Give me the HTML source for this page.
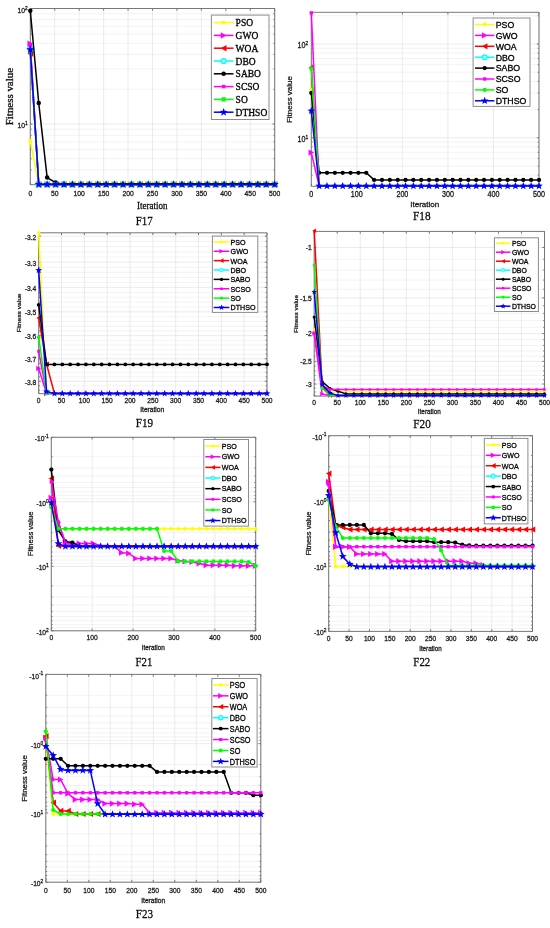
<!DOCTYPE html>
<html><head><meta charset="utf-8"><style>
html,body{margin:0;padding:0;background:#fff;}
svg{display:block;filter:blur(0.35px);}
.s{font-family:"Liberation Sans",Arial,sans-serif;fill:#1a1a1a;stroke:#1a1a1a;stroke-width:0.3;}
.r{font-family:"Liberation Serif","Times New Roman",serif;fill:#111;stroke:#111;stroke-width:0.3;}
.k{fill:#000;stroke:#000;}
.g{stroke:#dddddd;stroke-width:0.6;fill:none;}
.mg{stroke:#ebebeb;stroke-width:0.6;fill:none;}
.ax{stroke:#777;stroke-width:1.0;fill:none;}
.c{fill:none;stroke-width:1.5;stroke-linejoin:round;}
.lg{fill:#fff;stroke:#8c8c8c;stroke-width:1;}
</style></head><body>
<svg width="550" height="928" viewBox="0 0 550 928">
<defs>
<marker id="mPSO125" markerUnits="userSpaceOnUse" markerWidth="10" markerHeight="10" refX="0" refY="0" style="overflow:visible"><circle r="2" fill="#ffff00"/></marker>
<marker id="mGWO125" markerUnits="userSpaceOnUse" markerWidth="10" markerHeight="10" refX="0" refY="0" style="overflow:visible"><path d="M-2.88 -3.25L2.88 0L-2.88 3.25Z" fill="#ff00ff"/></marker>
<marker id="mWOA125" markerUnits="userSpaceOnUse" markerWidth="10" markerHeight="10" refX="0" refY="0" style="overflow:visible"><path d="M2.88 -3.25L-2.88 0L2.88 3.25Z" fill="#ff0000"/></marker>
<marker id="mDBO125" markerUnits="userSpaceOnUse" markerWidth="10" markerHeight="10" refX="0" refY="0" style="overflow:visible"><circle r="2.5" fill="#a0ffff" stroke="#00ffff" stroke-width="1.25"/></marker>
<marker id="mSABO125" markerUnits="userSpaceOnUse" markerWidth="10" markerHeight="10" refX="0" refY="0" style="overflow:visible"><circle r="2.25" fill="#000000"/></marker>
<marker id="mSCSO125" markerUnits="userSpaceOnUse" markerWidth="10" markerHeight="10" refX="0" refY="0" style="overflow:visible"><rect x="-1.75" y="-1.75" width="3.5" height="3.5" fill="#ff00ff"/></marker>
<marker id="mSO125" markerUnits="userSpaceOnUse" markerWidth="10" markerHeight="10" refX="0" refY="0" style="overflow:visible"><circle r="2.19" fill="#00ff00"/></marker>
<marker id="mDTHSO125" markerUnits="userSpaceOnUse" markerWidth="10" markerHeight="10" refX="0" refY="0" style="overflow:visible"><polygon points="0,-4.25 1.05,-1.44 4.04,-1.31 1.7,0.55 2.5,3.44 0,1.78 -2.5,3.44 -1.7,0.55 -4.04,-1.31 -1.05,-1.44" fill="#0000ff"/></marker>
<marker id="mPSO120" markerUnits="userSpaceOnUse" markerWidth="10" markerHeight="10" refX="0" refY="0" style="overflow:visible"><circle r="1.92" fill="#ffff00"/></marker>
<marker id="mGWO120" markerUnits="userSpaceOnUse" markerWidth="10" markerHeight="10" refX="0" refY="0" style="overflow:visible"><path d="M-2.76 -3.12L2.76 0L-2.76 3.12Z" fill="#ff00ff"/></marker>
<marker id="mWOA120" markerUnits="userSpaceOnUse" markerWidth="10" markerHeight="10" refX="0" refY="0" style="overflow:visible"><path d="M2.76 -3.12L-2.76 0L2.76 3.12Z" fill="#ff0000"/></marker>
<marker id="mDBO120" markerUnits="userSpaceOnUse" markerWidth="10" markerHeight="10" refX="0" refY="0" style="overflow:visible"><circle r="2.4" fill="#a0ffff" stroke="#00ffff" stroke-width="1.2"/></marker>
<marker id="mSABO120" markerUnits="userSpaceOnUse" markerWidth="10" markerHeight="10" refX="0" refY="0" style="overflow:visible"><circle r="2.16" fill="#000000"/></marker>
<marker id="mSCSO120" markerUnits="userSpaceOnUse" markerWidth="10" markerHeight="10" refX="0" refY="0" style="overflow:visible"><rect x="-1.68" y="-1.68" width="3.36" height="3.36" fill="#ff00ff"/></marker>
<marker id="mSO120" markerUnits="userSpaceOnUse" markerWidth="10" markerHeight="10" refX="0" refY="0" style="overflow:visible"><circle r="2.1" fill="#00ff00"/></marker>
<marker id="mDTHSO120" markerUnits="userSpaceOnUse" markerWidth="10" markerHeight="10" refX="0" refY="0" style="overflow:visible"><polygon points="0,-4.08 1.01,-1.39 3.88,-1.26 1.63,0.53 2.4,3.3 0,1.71 -2.4,3.3 -1.63,0.53 -3.88,-1.26 -1.01,-1.39" fill="#0000ff"/></marker>
<marker id="mPSO105" markerUnits="userSpaceOnUse" markerWidth="10" markerHeight="10" refX="0" refY="0" style="overflow:visible"><circle r="1.68" fill="#ffff00"/></marker>
<marker id="mGWO105" markerUnits="userSpaceOnUse" markerWidth="10" markerHeight="10" refX="0" refY="0" style="overflow:visible"><path d="M-2.42 -2.73L2.42 0L-2.42 2.73Z" fill="#ff00ff"/></marker>
<marker id="mWOA105" markerUnits="userSpaceOnUse" markerWidth="10" markerHeight="10" refX="0" refY="0" style="overflow:visible"><path d="M2.42 -2.73L-2.42 0L2.42 2.73Z" fill="#ff0000"/></marker>
<marker id="mDBO105" markerUnits="userSpaceOnUse" markerWidth="10" markerHeight="10" refX="0" refY="0" style="overflow:visible"><circle r="2.1" fill="#a0ffff" stroke="#00ffff" stroke-width="1.05"/></marker>
<marker id="mSABO105" markerUnits="userSpaceOnUse" markerWidth="10" markerHeight="10" refX="0" refY="0" style="overflow:visible"><circle r="1.89" fill="#000000"/></marker>
<marker id="mSCSO105" markerUnits="userSpaceOnUse" markerWidth="10" markerHeight="10" refX="0" refY="0" style="overflow:visible"><rect x="-1.47" y="-1.47" width="2.94" height="2.94" fill="#ff00ff"/></marker>
<marker id="mSO105" markerUnits="userSpaceOnUse" markerWidth="10" markerHeight="10" refX="0" refY="0" style="overflow:visible"><circle r="1.84" fill="#00ff00"/></marker>
<marker id="mDTHSO105" markerUnits="userSpaceOnUse" markerWidth="10" markerHeight="10" refX="0" refY="0" style="overflow:visible"><polygon points="0,-3.57 0.88,-1.21 3.4,-1.1 1.43,0.46 2.1,2.89 0,1.5 -2.1,2.89 -1.43,0.46 -3.4,-1.1 -0.88,-1.21" fill="#0000ff"/></marker>
<marker id="mPSO90" markerUnits="userSpaceOnUse" markerWidth="10" markerHeight="10" refX="0" refY="0" style="overflow:visible"><circle r="1.44" fill="#ffff00"/></marker>
<marker id="mGWO90" markerUnits="userSpaceOnUse" markerWidth="10" markerHeight="10" refX="0" refY="0" style="overflow:visible"><path d="M-2.07 -2.34L2.07 0L-2.07 2.34Z" fill="#ff00ff"/></marker>
<marker id="mWOA90" markerUnits="userSpaceOnUse" markerWidth="10" markerHeight="10" refX="0" refY="0" style="overflow:visible"><path d="M2.07 -2.34L-2.07 0L2.07 2.34Z" fill="#ff0000"/></marker>
<marker id="mDBO90" markerUnits="userSpaceOnUse" markerWidth="10" markerHeight="10" refX="0" refY="0" style="overflow:visible"><circle r="1.8" fill="#a0ffff" stroke="#00ffff" stroke-width="0.9"/></marker>
<marker id="mSABO90" markerUnits="userSpaceOnUse" markerWidth="10" markerHeight="10" refX="0" refY="0" style="overflow:visible"><circle r="1.62" fill="#000000"/></marker>
<marker id="mSCSO90" markerUnits="userSpaceOnUse" markerWidth="10" markerHeight="10" refX="0" refY="0" style="overflow:visible"><rect x="-1.26" y="-1.26" width="2.52" height="2.52" fill="#ff00ff"/></marker>
<marker id="mSO90" markerUnits="userSpaceOnUse" markerWidth="10" markerHeight="10" refX="0" refY="0" style="overflow:visible"><circle r="1.57" fill="#00ff00"/></marker>
<marker id="mDTHSO90" markerUnits="userSpaceOnUse" markerWidth="10" markerHeight="10" refX="0" refY="0" style="overflow:visible"><polygon points="0,-3.06 0.76,-1.04 2.91,-0.95 1.22,0.4 1.8,2.48 0,1.29 -1.8,2.48 -1.22,0.4 -2.91,-0.95 -0.76,-1.04" fill="#0000ff"/></marker>
<marker id="mPSO85" markerUnits="userSpaceOnUse" markerWidth="10" markerHeight="10" refX="0" refY="0" style="overflow:visible"><circle r="1.36" fill="#ffff00"/></marker>
<marker id="mGWO85" markerUnits="userSpaceOnUse" markerWidth="10" markerHeight="10" refX="0" refY="0" style="overflow:visible"><path d="M-1.95 -2.21L1.95 0L-1.95 2.21Z" fill="#ff00ff"/></marker>
<marker id="mWOA85" markerUnits="userSpaceOnUse" markerWidth="10" markerHeight="10" refX="0" refY="0" style="overflow:visible"><path d="M1.95 -2.21L-1.95 0L1.95 2.21Z" fill="#ff0000"/></marker>
<marker id="mDBO85" markerUnits="userSpaceOnUse" markerWidth="10" markerHeight="10" refX="0" refY="0" style="overflow:visible"><circle r="1.7" fill="#a0ffff" stroke="#00ffff" stroke-width="0.85"/></marker>
<marker id="mSABO85" markerUnits="userSpaceOnUse" markerWidth="10" markerHeight="10" refX="0" refY="0" style="overflow:visible"><circle r="1.53" fill="#000000"/></marker>
<marker id="mSCSO85" markerUnits="userSpaceOnUse" markerWidth="10" markerHeight="10" refX="0" refY="0" style="overflow:visible"><rect x="-1.19" y="-1.19" width="2.38" height="2.38" fill="#ff00ff"/></marker>
<marker id="mSO85" markerUnits="userSpaceOnUse" markerWidth="10" markerHeight="10" refX="0" refY="0" style="overflow:visible"><circle r="1.49" fill="#00ff00"/></marker>
<marker id="mDTHSO85" markerUnits="userSpaceOnUse" markerWidth="10" markerHeight="10" refX="0" refY="0" style="overflow:visible"><polygon points="0,-2.89 0.71,-0.98 2.75,-0.89 1.15,0.38 1.7,2.34 0,1.21 -1.7,2.34 -1.15,0.38 -2.75,-0.89 -0.71,-0.98" fill="#0000ff"/></marker>
<marker id="mPSO95" markerUnits="userSpaceOnUse" markerWidth="10" markerHeight="10" refX="0" refY="0" style="overflow:visible"><circle r="1.52" fill="#ffff00"/></marker>
<marker id="mGWO95" markerUnits="userSpaceOnUse" markerWidth="10" markerHeight="10" refX="0" refY="0" style="overflow:visible"><path d="M-2.18 -2.47L2.18 0L-2.18 2.47Z" fill="#ff00ff"/></marker>
<marker id="mWOA95" markerUnits="userSpaceOnUse" markerWidth="10" markerHeight="10" refX="0" refY="0" style="overflow:visible"><path d="M2.18 -2.47L-2.18 0L2.18 2.47Z" fill="#ff0000"/></marker>
<marker id="mDBO95" markerUnits="userSpaceOnUse" markerWidth="10" markerHeight="10" refX="0" refY="0" style="overflow:visible"><circle r="1.9" fill="#a0ffff" stroke="#00ffff" stroke-width="0.95"/></marker>
<marker id="mSABO95" markerUnits="userSpaceOnUse" markerWidth="10" markerHeight="10" refX="0" refY="0" style="overflow:visible"><circle r="1.71" fill="#000000"/></marker>
<marker id="mSCSO95" markerUnits="userSpaceOnUse" markerWidth="10" markerHeight="10" refX="0" refY="0" style="overflow:visible"><rect x="-1.33" y="-1.33" width="2.66" height="2.66" fill="#ff00ff"/></marker>
<marker id="mSO95" markerUnits="userSpaceOnUse" markerWidth="10" markerHeight="10" refX="0" refY="0" style="overflow:visible"><circle r="1.66" fill="#00ff00"/></marker>
<marker id="mDTHSO95" markerUnits="userSpaceOnUse" markerWidth="10" markerHeight="10" refX="0" refY="0" style="overflow:visible"><polygon points="0,-3.23 0.8,-1.1 3.07,-1 1.29,0.42 1.9,2.61 0,1.36 -1.9,2.61 -1.29,0.42 -3.07,-1 -0.8,-1.1" fill="#0000ff"/></marker>
<marker id="mPSO110" markerUnits="userSpaceOnUse" markerWidth="10" markerHeight="10" refX="0" refY="0" style="overflow:visible"><circle r="1.76" fill="#ffff00"/></marker>
<marker id="mGWO110" markerUnits="userSpaceOnUse" markerWidth="10" markerHeight="10" refX="0" refY="0" style="overflow:visible"><path d="M-2.53 -2.86L2.53 0L-2.53 2.86Z" fill="#ff00ff"/></marker>
<marker id="mWOA110" markerUnits="userSpaceOnUse" markerWidth="10" markerHeight="10" refX="0" refY="0" style="overflow:visible"><path d="M2.53 -2.86L-2.53 0L2.53 2.86Z" fill="#ff0000"/></marker>
<marker id="mDBO110" markerUnits="userSpaceOnUse" markerWidth="10" markerHeight="10" refX="0" refY="0" style="overflow:visible"><circle r="2.2" fill="#a0ffff" stroke="#00ffff" stroke-width="1.1"/></marker>
<marker id="mSABO110" markerUnits="userSpaceOnUse" markerWidth="10" markerHeight="10" refX="0" refY="0" style="overflow:visible"><circle r="1.98" fill="#000000"/></marker>
<marker id="mSCSO110" markerUnits="userSpaceOnUse" markerWidth="10" markerHeight="10" refX="0" refY="0" style="overflow:visible"><rect x="-1.54" y="-1.54" width="3.08" height="3.08" fill="#ff00ff"/></marker>
<marker id="mSO110" markerUnits="userSpaceOnUse" markerWidth="10" markerHeight="10" refX="0" refY="0" style="overflow:visible"><circle r="1.93" fill="#00ff00"/></marker>
<marker id="mDTHSO110" markerUnits="userSpaceOnUse" markerWidth="10" markerHeight="10" refX="0" refY="0" style="overflow:visible"><polygon points="0,-3.74 0.92,-1.27 3.56,-1.16 1.49,0.49 2.2,3.03 0,1.57 -2.2,3.03 -1.49,0.49 -3.56,-1.16 -0.92,-1.27" fill="#0000ff"/></marker>
<marker id="mSOsq125" markerUnits="userSpaceOnUse" markerWidth="10" markerHeight="10" refX="0" refY="0" style="overflow:visible"><rect x="-2.12" y="-2.12" width="4.25" height="4.25" fill="#00ff00"/></marker>
</defs>
<rect width="550" height="928" fill="#fff"/>
<path d="M30.3 184.39H274.7M30.3 169.96H274.7M30.3 158.77H274.7M30.3 149.62H274.7M30.3 141.89H274.7M30.3 135.19H274.7M30.3 129.28H274.7M30.3 89.23H274.7M30.3 68.89H274.7M30.3 54.46H274.7M30.3 43.27H274.7M30.3 34.12H274.7M30.3 26.39H274.7M30.3 19.69H274.7M30.3 13.78H274.7" class="mg"/>
<path d="M30.3 8.5H274.7M30.3 124H274.7M30.3 8.5V184.7M54.74 8.5V184.7M79.18 8.5V184.7M103.62 8.5V184.7M128.06 8.5V184.7M152.5 8.5V184.7M176.94 8.5V184.7M201.38 8.5V184.7M225.82 8.5V184.7M250.26 8.5V184.7M274.7 8.5V184.7" class="g"/>
<path d="M30.3 8.5H274.7V184.7H30.3ZM30.3 184.7v-2.2M30.3 8.5v2.2M54.74 184.7v-2.2M54.74 8.5v2.2M79.18 184.7v-2.2M79.18 8.5v2.2M103.62 184.7v-2.2M103.62 8.5v2.2M128.06 184.7v-2.2M128.06 8.5v2.2M152.5 184.7v-2.2M152.5 8.5v2.2M176.94 184.7v-2.2M176.94 8.5v2.2M201.38 184.7v-2.2M201.38 8.5v2.2M225.82 184.7v-2.2M225.82 8.5v2.2M250.26 184.7v-2.2M250.26 8.5v2.2M274.7 184.7v-2.2M274.7 8.5v2.2M30.3 8.5h2.2M274.7 8.5h-2.2M30.3 124h2.2M274.7 124h-2.2M30.3 184.39h1.3M274.7 184.39h-1.3M30.3 169.96h1.3M274.7 169.96h-1.3M30.3 158.77h1.3M274.7 158.77h-1.3M30.3 149.62h1.3M274.7 149.62h-1.3M30.3 141.89h1.3M274.7 141.89h-1.3M30.3 135.19h1.3M274.7 135.19h-1.3M30.3 129.28h1.3M274.7 129.28h-1.3M30.3 89.23h1.3M274.7 89.23h-1.3M30.3 68.89h1.3M274.7 68.89h-1.3M30.3 54.46h1.3M274.7 54.46h-1.3M30.3 43.27h1.3M274.7 43.27h-1.3M30.3 34.12h1.3M274.7 34.12h-1.3M30.3 26.39h1.3M274.7 26.39h-1.3M30.3 19.69h1.3M274.7 19.69h-1.3M30.3 13.78h1.3M274.7 13.78h-1.3" class="ax"/>
<polyline points="30.3,140.9 38.73,184.4 47.16,184.4 55.58,184.4 64.01,184.4 72.44,184.4 80.87,184.4 89.29,184.4 97.72,184.4 106.15,184.4 114.58,184.4 123,184.4 131.43,184.4 139.86,184.4 148.29,184.4 156.71,184.4 165.14,184.4 173.57,184.4 182,184.4 190.42,184.4 198.85,184.4 207.28,184.4 215.71,184.4 224.13,184.4 232.56,184.4 240.99,184.4 249.42,184.4 257.84,184.4 266.27,184.4 274.7,184.4" class="c" stroke="#ffff00" marker-start="url(#mPSO125)" marker-mid="url(#mPSO125)" marker-end="url(#mPSO125)"/>
<polyline points="30.3,43.8 38.73,184.4 47.16,184.4 55.58,184.4 64.01,184.4 72.44,184.4 80.87,184.4 89.29,184.4 97.72,184.4 106.15,184.4 114.58,184.4 123,184.4 131.43,184.4 139.86,184.4 148.29,184.4 156.71,184.4 165.14,184.4 173.57,184.4 182,184.4 190.42,184.4 198.85,184.4 207.28,184.4 215.71,184.4 224.13,184.4 232.56,184.4 240.99,184.4 249.42,184.4 257.84,184.4 266.27,184.4 274.7,184.4" class="c" stroke="#ff00ff" marker-start="url(#mGWO125)" marker-mid="url(#mGWO125)" marker-end="url(#mGWO125)"/>
<polyline points="30.3,53.5 38.73,184.4 47.16,184.4 55.58,184.4 64.01,184.4 72.44,184.4 80.87,184.4 89.29,184.4 97.72,184.4 106.15,184.4 114.58,184.4 123,184.4 131.43,184.4 139.86,184.4 148.29,184.4 156.71,184.4 165.14,184.4 173.57,184.4 182,184.4 190.42,184.4 198.85,184.4 207.28,184.4 215.71,184.4 224.13,184.4 232.56,184.4 240.99,184.4 249.42,184.4 257.84,184.4 266.27,184.4 274.7,184.4" class="c" stroke="#ff0000" marker-start="url(#mWOA125)" marker-mid="url(#mWOA125)" marker-end="url(#mWOA125)"/>
<polyline points="30.3,48.5 38.73,184.4 47.16,184.4 55.58,184.4 64.01,184.4 72.44,184.4 80.87,184.4 89.29,184.4 97.72,184.4 106.15,184.4 114.58,184.4 123,184.4 131.43,184.4 139.86,184.4 148.29,184.4 156.71,184.4 165.14,184.4 173.57,184.4 182,184.4 190.42,184.4 198.85,184.4 207.28,184.4 215.71,184.4 224.13,184.4 232.56,184.4 240.99,184.4 249.42,184.4 257.84,184.4 266.27,184.4 274.7,184.4" class="c" stroke="#00ffff" marker-start="url(#mDBO125)" marker-mid="url(#mDBO125)" marker-end="url(#mDBO125)"/>
<polyline points="30.3,10.8 38.73,103 47.16,177.6 55.58,182.6 64.01,184.4 72.44,184.4 80.87,184.4 89.29,184.4 97.72,184.4 106.15,184.4 114.58,184.4 123,184.4 131.43,184.4 139.86,184.4 148.29,184.4 156.71,184.4 165.14,184.4 173.57,184.4 182,184.4 190.42,184.4 198.85,184.4 207.28,184.4 215.71,184.4 224.13,184.4 232.56,184.4 240.99,184.4 249.42,184.4 257.84,184.4 266.27,184.4 274.7,184.4" class="c" stroke="#000000" marker-start="url(#mSABO125)" marker-mid="url(#mSABO125)" marker-end="url(#mSABO125)"/>
<polyline points="30.3,45.5 38.73,184.4 47.16,184.4 55.58,184.4 64.01,184.4 72.44,184.4 80.87,184.4 89.29,184.4 97.72,184.4 106.15,184.4 114.58,184.4 123,184.4 131.43,184.4 139.86,184.4 148.29,184.4 156.71,184.4 165.14,184.4 173.57,184.4 182,184.4 190.42,184.4 198.85,184.4 207.28,184.4 215.71,184.4 224.13,184.4 232.56,184.4 240.99,184.4 249.42,184.4 257.84,184.4 266.27,184.4 274.7,184.4" class="c" stroke="#ff00ff" marker-start="url(#mSCSO125)" marker-mid="url(#mSCSO125)" marker-end="url(#mSCSO125)"/>
<polyline points="30.3,50.5 38.73,184.4 47.16,184.4 55.58,184.4 64.01,184.4 72.44,184.4 80.87,184.4 89.29,184.4 97.72,184.4 106.15,184.4 114.58,184.4 123,184.4 131.43,184.4 139.86,184.4 148.29,184.4 156.71,184.4 165.14,184.4 173.57,184.4 182,184.4 190.42,184.4 198.85,184.4 207.28,184.4 215.71,184.4 224.13,184.4 232.56,184.4 240.99,184.4 249.42,184.4 257.84,184.4 266.27,184.4 274.7,184.4" class="c" stroke="#00ff00" marker-start="url(#mSOsq125)" marker-mid="url(#mSOsq125)" marker-end="url(#mSOsq125)"/>
<polyline points="30.3,49.6 38.73,184.4 47.16,184.4 55.58,184.4 64.01,184.4 72.44,184.4 80.87,184.4 89.29,184.4 97.72,184.4 106.15,184.4 114.58,184.4 123,184.4 131.43,184.4 139.86,184.4 148.29,184.4 156.71,184.4 165.14,184.4 173.57,184.4 182,184.4 190.42,184.4 198.85,184.4 207.28,184.4 215.71,184.4 224.13,184.4 232.56,184.4 240.99,184.4 249.42,184.4 257.84,184.4 266.27,184.4 274.7,184.4" class="c" stroke="#0000ff" marker-start="url(#mDTHSO125)" marker-mid="url(#mDTHSO125)" marker-end="url(#mDTHSO125)"/>
<path d="M64 183.5H274.7" stroke="#111" stroke-width="0.9"/>
<text class="s" transform="translate(30.3 195.8) scale(0.87 1)" font-size="7.8" text-anchor="middle">0</text>
<text class="s" transform="translate(54.74 195.8) scale(0.87 1)" font-size="7.8" text-anchor="middle">50</text>
<text class="s" transform="translate(79.18 195.8) scale(0.87 1)" font-size="7.8" text-anchor="middle">100</text>
<text class="s" transform="translate(103.62 195.8) scale(0.87 1)" font-size="7.8" text-anchor="middle">150</text>
<text class="s" transform="translate(128.06 195.8) scale(0.87 1)" font-size="7.8" text-anchor="middle">200</text>
<text class="s" transform="translate(152.5 195.8) scale(0.87 1)" font-size="7.8" text-anchor="middle">250</text>
<text class="s" transform="translate(176.94 195.8) scale(0.87 1)" font-size="7.8" text-anchor="middle">300</text>
<text class="s" transform="translate(201.38 195.8) scale(0.87 1)" font-size="7.8" text-anchor="middle">350</text>
<text class="s" transform="translate(225.82 195.8) scale(0.87 1)" font-size="7.8" text-anchor="middle">400</text>
<text class="s" transform="translate(250.26 195.8) scale(0.87 1)" font-size="7.8" text-anchor="middle">450</text>
<text class="s" transform="translate(274.7 195.8) scale(0.87 1)" font-size="7.8" text-anchor="middle">500</text>
<text class="s" transform="translate(27.8 12.71) scale(0.87 1)" font-size="7.8" text-anchor="end">10<tspan dy="-3.2" font-size="5.6">2</tspan></text>
<text class="s" transform="translate(27.8 128.21) scale(0.87 1)" font-size="7.8" text-anchor="end">10<tspan dy="-3.2" font-size="5.6">1</tspan></text>
<text class="r" transform="translate(152.2 209)" font-size="10" text-anchor="middle" textLength="30.5" lengthAdjust="spacingAndGlyphs">Iteration</text>
<text class="r" transform="translate(13.2 96.6) rotate(-90)" font-size="9.6" text-anchor="middle" textLength="57.3" lengthAdjust="spacingAndGlyphs">Fitness value</text>
<text class="r" transform="translate(144.2 224.8)" font-size="13" text-anchor="middle" textLength="17" lengthAdjust="spacingAndGlyphs">F17</text>
<rect x="211.4" y="15.1" width="57.6" height="104.4" class="lg"/>
<polyline points="213.8,22.6 223.65,22.6 233.5,22.6" class="c" stroke="#ffff00" marker-mid="url(#mPSO125)"/>
<text class="r k" transform="translate(235.6 26.23)" font-size="9.5">PSO</text>
<polyline points="213.8,35.4 223.65,35.4 233.5,35.4" class="c" stroke="#ff00ff" marker-mid="url(#mGWO125)"/>
<text class="r k" transform="translate(235.6 39.03)" font-size="9.5">GWO</text>
<polyline points="213.8,48.2 223.65,48.2 233.5,48.2" class="c" stroke="#ff0000" marker-mid="url(#mWOA125)"/>
<text class="r k" transform="translate(235.6 51.83)" font-size="9.5">WOA</text>
<polyline points="213.8,61 223.65,61 233.5,61" class="c" stroke="#00ffff" marker-mid="url(#mDBO125)"/>
<text class="r k" transform="translate(235.6 64.62)" font-size="9.5">DBO</text>
<polyline points="213.8,73.8 223.65,73.8 233.5,73.8" class="c" stroke="#000000" marker-mid="url(#mSABO125)"/>
<text class="r k" transform="translate(235.6 77.43)" font-size="9.5">SABO</text>
<polyline points="213.8,86.6 223.65,86.6 233.5,86.6" class="c" stroke="#ff00ff" marker-mid="url(#mSCSO125)"/>
<text class="r k" transform="translate(235.6 90.22)" font-size="9.5">SCSO</text>
<polyline points="213.8,99.4 223.65,99.4 233.5,99.4" class="c" stroke="#00ff00" marker-mid="url(#mSOsq125)"/>
<text class="r k" transform="translate(235.6 103.03)" font-size="9.5">SO</text>
<polyline points="213.8,112.2 223.65,112.2 233.5,112.2" class="c" stroke="#0000ff" marker-mid="url(#mDTHSO125)"/>
<text class="r k" transform="translate(235.6 115.83)" font-size="9.5">DTHSO</text>
<path d="M311.3 175.13H539M311.3 166.04H539M311.3 158.61H539M311.3 152.33H539M311.3 146.89H539M311.3 142.09H539M311.3 109.56H539M311.3 93.05H539M311.3 81.33H539M311.3 72.24H539M311.3 64.81H539M311.3 58.53H539M311.3 53.09H539M311.3 48.29H539M311.3 15.76H539" class="mg"/>
<path d="M311.3 44H539M311.3 137.8H539M311.3 12.3V186.3M356.84 12.3V186.3M402.38 12.3V186.3M447.92 12.3V186.3M493.46 12.3V186.3M539 12.3V186.3" class="g"/>
<path d="M311.3 12.3H539V186.3H311.3ZM311.3 186.3v-2.2M311.3 12.3v2.2M356.84 186.3v-2.2M356.84 12.3v2.2M402.38 186.3v-2.2M402.38 12.3v2.2M447.92 186.3v-2.2M447.92 12.3v2.2M493.46 186.3v-2.2M493.46 12.3v2.2M539 186.3v-2.2M539 12.3v2.2M311.3 44h2.2M539 44h-2.2M311.3 137.8h2.2M539 137.8h-2.2M311.3 175.13h1.3M539 175.13h-1.3M311.3 166.04h1.3M539 166.04h-1.3M311.3 158.61h1.3M539 158.61h-1.3M311.3 152.33h1.3M539 152.33h-1.3M311.3 146.89h1.3M539 146.89h-1.3M311.3 142.09h1.3M539 142.09h-1.3M311.3 109.56h1.3M539 109.56h-1.3M311.3 93.05h1.3M539 93.05h-1.3M311.3 81.33h1.3M539 81.33h-1.3M311.3 72.24h1.3M539 72.24h-1.3M311.3 64.81h1.3M539 64.81h-1.3M311.3 58.53h1.3M539 58.53h-1.3M311.3 53.09h1.3M539 53.09h-1.3M311.3 48.29h1.3M539 48.29h-1.3M311.3 15.76h1.3M539 15.76h-1.3" class="ax"/>
<polyline points="311.3,89.5 319.15,186 327,186 334.86,186 342.71,186 350.56,186 358.41,186 366.26,186 374.11,186 381.97,186 389.82,186 397.67,186 405.52,186 413.37,186 421.22,186 429.08,186 436.93,186 444.78,186 452.63,186 460.48,186 468.33,186 476.19,186 484.04,186 491.89,186 499.74,186 507.59,186 515.44,186 523.3,186 531.15,186 539,186" class="c" stroke="#ffff00"/>
<path d="M311.3 89.5" fill="none" stroke="none" marker-start="url(#mPSO120)" marker-mid="url(#mPSO120)" marker-end="url(#mPSO120)"/>
<polyline points="311.3,152.6 319.15,186 327,186 334.86,186 342.71,186 350.56,186 358.41,186 366.26,186 374.11,186 381.97,186 389.82,186 397.67,186 405.52,186 413.37,186 421.22,186 429.08,186 436.93,186 444.78,186 452.63,186 460.48,186 468.33,186 476.19,186 484.04,186 491.89,186 499.74,186 507.59,186 515.44,186 523.3,186 531.15,186 539,186" class="c" stroke="#ff00ff"/>
<path d="M311.3 152.6" fill="none" stroke="none" marker-start="url(#mGWO120)" marker-mid="url(#mGWO120)" marker-end="url(#mGWO120)"/>
<polyline points="311.3,67.6 319.15,186 327,186 334.86,186 342.71,186 350.56,186 358.41,186 366.26,186 374.11,186 381.97,186 389.82,186 397.67,186 405.52,186 413.37,186 421.22,186 429.08,186 436.93,186 444.78,186 452.63,186 460.48,186 468.33,186 476.19,186 484.04,186 491.89,186 499.74,186 507.59,186 515.44,186 523.3,186 531.15,186 539,186" class="c" stroke="#ff0000"/>
<path d="M311.3 67.6" fill="none" stroke="none" marker-start="url(#mWOA120)" marker-mid="url(#mWOA120)" marker-end="url(#mWOA120)"/>
<polyline points="311.3,93 319.15,172.8 327,172.8 334.86,172.8 342.71,172.8 350.56,172.8 358.41,172.8 366.26,172.8 374.11,179.9 381.97,179.9 389.82,179.9 397.67,179.9 405.52,179.9 413.37,179.9 421.22,179.9 429.08,179.9 436.93,179.9 444.78,179.9 452.63,179.9 460.48,179.9 468.33,179.9 476.19,179.9 484.04,179.9 491.89,179.9 499.74,179.9 507.59,179.9 515.44,179.9 523.3,179.9 531.15,179.9 539,179.9" class="c" stroke="#000000"/>
<path d="M311.3 93M319.15 172.8M327 172.8M334.86 172.8M342.71 172.8M350.56 172.8M358.41 172.8M366.26 172.8M374.11 179.9M381.97 179.9M389.82 179.9M397.67 179.9M405.52 179.9M413.37 179.9M421.22 179.9M429.08 179.9M436.93 179.9M444.78 179.9M452.63 179.9M460.48 179.9M468.33 179.9M476.19 179.9M484.04 179.9M491.89 179.9M499.74 179.9M507.59 179.9M515.44 179.9M523.3 179.9M531.15 179.9M539 179.9" fill="none" stroke="none" marker-start="url(#mSABO120)" marker-mid="url(#mSABO120)" marker-end="url(#mSABO120)"/>
<polyline points="311.3,12.9 319.15,186 327,186 334.86,186 342.71,186 350.56,186 358.41,186 366.26,186 374.11,186 381.97,186 389.82,186 397.67,186 405.52,186 413.37,186 421.22,186 429.08,186 436.93,186 444.78,186 452.63,186 460.48,186 468.33,186 476.19,186 484.04,186 491.89,186 499.74,186 507.59,186 515.44,186 523.3,186 531.15,186 539,186" class="c" stroke="#ff00ff"/>
<path d="M311.3 12.9" fill="none" stroke="none" marker-start="url(#mSCSO120)" marker-mid="url(#mSCSO120)" marker-end="url(#mSCSO120)"/>
<polyline points="311.3,68.5 319.15,186 327,186 334.86,186 342.71,186 350.56,186 358.41,186 366.26,186 374.11,186 381.97,186 389.82,186 397.67,186 405.52,186 413.37,186 421.22,186 429.08,186 436.93,186 444.78,186 452.63,186 460.48,186 468.33,186 476.19,186 484.04,186 491.89,186 499.74,186 507.59,186 515.44,186 523.3,186 531.15,186 539,186" class="c" stroke="#00ff00"/>
<path d="M311.3 68.5" fill="none" stroke="none" marker-start="url(#mSO120)" marker-mid="url(#mSO120)" marker-end="url(#mSO120)"/>
<polyline points="311.3,110.9 319.15,186 327,186 334.86,186 342.71,186 350.56,186 358.41,186 366.26,186 374.11,186 381.97,186 389.82,186 397.67,186 405.52,186 413.37,186 421.22,186 429.08,186 436.93,186 444.78,186 452.63,186 460.48,186 468.33,186 476.19,186 484.04,186 491.89,186 499.74,186 507.59,186 515.44,186 523.3,186 531.15,186 539,186" class="c" stroke="#0000ff" marker-start="url(#mDTHSO120)" marker-mid="url(#mDTHSO120)" marker-end="url(#mDTHSO120)"/>
<text class="s" transform="translate(311.3 196.6) scale(0.87 1)" font-size="8.25" text-anchor="middle">0</text>
<text class="s" transform="translate(356.84 196.6) scale(0.87 1)" font-size="8.25" text-anchor="middle">100</text>
<text class="s" transform="translate(402.38 196.6) scale(0.87 1)" font-size="8.25" text-anchor="middle">200</text>
<text class="s" transform="translate(447.92 196.6) scale(0.87 1)" font-size="8.25" text-anchor="middle">300</text>
<text class="s" transform="translate(493.46 196.6) scale(0.87 1)" font-size="8.25" text-anchor="middle">400</text>
<text class="s" transform="translate(539 196.6) scale(0.87 1)" font-size="8.25" text-anchor="middle">500</text>
<text class="s" transform="translate(308.3 48.27) scale(0.87 1)" font-size="8.25" text-anchor="end">10<tspan dy="-3.2" font-size="5.6">2</tspan></text>
<text class="s" transform="translate(308.3 142.07) scale(0.87 1)" font-size="8.25" text-anchor="end">10<tspan dy="-3.2" font-size="5.6">1</tspan></text>
<text class="s" transform="translate(424.7 206.5) scale(0.87 1)" font-size="8" text-anchor="middle" textLength="33.33" lengthAdjust="spacingAndGlyphs">Iteration</text>
<text class="s" transform="translate(291.6 99.6) scale(0.87 1) rotate(-90)" font-size="8" text-anchor="middle" textLength="47" lengthAdjust="spacingAndGlyphs">Fitness value</text>
<text class="r" transform="translate(421.8 219.5) scale(0.87 1)" font-size="12" text-anchor="middle" textLength="20.11" lengthAdjust="spacingAndGlyphs">F18</text>
<rect x="473.1" y="18" width="56.9" height="88.4" class="lg"/>
<polyline points="475,24.5 484.7,24.5 494.4,24.5" class="c" stroke="#ffff00" marker-mid="url(#mPSO120)"/>
<text class="s k" transform="translate(495.7 27.81) scale(1.02 1)" font-size="8.6">PSO</text>
<polyline points="475,35.4 484.7,35.4 494.4,35.4" class="c" stroke="#ff00ff" marker-mid="url(#mGWO120)"/>
<text class="s k" transform="translate(495.7 38.71) scale(1.02 1)" font-size="8.6">GWO</text>
<polyline points="475,46.3 484.7,46.3 494.4,46.3" class="c" stroke="#ff0000" marker-mid="url(#mWOA120)"/>
<text class="s k" transform="translate(495.7 49.61) scale(1.02 1)" font-size="8.6">WOA</text>
<polyline points="475,57.2 484.7,57.2 494.4,57.2" class="c" stroke="#00ffff" marker-mid="url(#mDBO120)"/>
<text class="s k" transform="translate(495.7 60.51) scale(1.02 1)" font-size="8.6">DBO</text>
<polyline points="475,68.1 484.7,68.1 494.4,68.1" class="c" stroke="#000000" marker-mid="url(#mSABO120)"/>
<text class="s k" transform="translate(495.7 71.41) scale(1.02 1)" font-size="8.6">SABO</text>
<polyline points="475,79 484.7,79 494.4,79" class="c" stroke="#ff00ff" marker-mid="url(#mSCSO120)"/>
<text class="s k" transform="translate(495.7 82.31) scale(1.02 1)" font-size="8.6">SCSO</text>
<polyline points="475,89.9 484.7,89.9 494.4,89.9" class="c" stroke="#00ff00" marker-mid="url(#mSO120)"/>
<text class="s k" transform="translate(495.7 93.21) scale(1.02 1)" font-size="8.6">SO</text>
<polyline points="475,100.8 484.7,100.8 494.4,100.8" class="c" stroke="#0000ff" marker-mid="url(#mDTHSO120)"/>
<text class="s k" transform="translate(495.7 104.11) scale(1.02 1)" font-size="8.6">DTHSO</text>
<path d="M38.7 241.46H267M38.7 246.69H267M38.7 251.88H267M38.7 257.05H267M38.7 267.28H267M38.7 272.35H267M38.7 277.39H267M38.7 282.4H267M38.7 292.34H267M38.7 297.26H267M38.7 302.15H267M38.7 307.02H267M38.7 316.67H267M38.7 321.45H267M38.7 326.21H267M38.7 330.94H267M38.7 340.32H267M38.7 344.97H267M38.7 349.6H267M38.7 354.2H267M38.7 363.32H267M38.7 367.85H267M38.7 372.35H267M38.7 376.83H267M38.7 385.72H267M38.7 390.13H267" class="mg"/>
<path d="M38.7 236.2H267M38.7 262.18H267M38.7 287.38H267M38.7 311.86H267M38.7 335.64H267M38.7 358.77H267M38.7 381.29H267M38.7 232.8V393.7M61.53 232.8V393.7M84.36 232.8V393.7M107.19 232.8V393.7M130.02 232.8V393.7M152.85 232.8V393.7M175.68 232.8V393.7M198.51 232.8V393.7M221.34 232.8V393.7M244.17 232.8V393.7M267 232.8V393.7" class="g"/>
<path d="M38.7 232.8H267V393.7H38.7ZM38.7 393.7v-2.2M38.7 232.8v2.2M61.53 393.7v-2.2M61.53 232.8v2.2M84.36 393.7v-2.2M84.36 232.8v2.2M107.19 393.7v-2.2M107.19 232.8v2.2M130.02 393.7v-2.2M130.02 232.8v2.2M152.85 393.7v-2.2M152.85 232.8v2.2M175.68 393.7v-2.2M175.68 232.8v2.2M198.51 393.7v-2.2M198.51 232.8v2.2M221.34 393.7v-2.2M221.34 232.8v2.2M244.17 393.7v-2.2M244.17 232.8v2.2M267 393.7v-2.2M267 232.8v2.2M38.7 236.2h2.2M267 236.2h-2.2M38.7 262.18h2.2M267 262.18h-2.2M38.7 287.38h2.2M267 287.38h-2.2M38.7 311.86h2.2M267 311.86h-2.2M38.7 335.64h2.2M267 335.64h-2.2M38.7 358.77h2.2M267 358.77h-2.2M38.7 381.29h2.2M267 381.29h-2.2M38.7 241.46h1.3M267 241.46h-1.3M38.7 246.69h1.3M267 246.69h-1.3M38.7 251.88h1.3M267 251.88h-1.3M38.7 257.05h1.3M267 257.05h-1.3M38.7 267.28h1.3M267 267.28h-1.3M38.7 272.35h1.3M267 272.35h-1.3M38.7 277.39h1.3M267 277.39h-1.3M38.7 282.4h1.3M267 282.4h-1.3M38.7 292.34h1.3M267 292.34h-1.3M38.7 297.26h1.3M267 297.26h-1.3M38.7 302.15h1.3M267 302.15h-1.3M38.7 307.02h1.3M267 307.02h-1.3M38.7 316.67h1.3M267 316.67h-1.3M38.7 321.45h1.3M267 321.45h-1.3M38.7 326.21h1.3M267 326.21h-1.3M38.7 330.94h1.3M267 330.94h-1.3M38.7 340.32h1.3M267 340.32h-1.3M38.7 344.97h1.3M267 344.97h-1.3M38.7 349.6h1.3M267 349.6h-1.3M38.7 354.2h1.3M267 354.2h-1.3M38.7 363.32h1.3M267 363.32h-1.3M38.7 367.85h1.3M267 367.85h-1.3M38.7 372.35h1.3M267 372.35h-1.3M38.7 376.83h1.3M267 376.83h-1.3M38.7 385.72h1.3M267 385.72h-1.3M38.7 390.13h1.3M267 390.13h-1.3" class="ax"/>
<polyline points="38.7,232.8 46.57,393.5 54.44,393.5 62.32,393.5 70.19,393.5 78.06,393.5 85.93,393.5 93.81,393.5 101.68,393.5 109.55,393.5 117.42,393.5 125.3,393.5 133.17,393.5 141.04,393.5 148.91,393.5 156.79,393.5 164.66,393.5 172.53,393.5 180.4,393.5 188.28,393.5 196.15,393.5 204.02,393.5 211.89,393.5 219.77,393.5 227.64,393.5 235.51,393.5 243.38,393.5 251.26,393.5 259.13,393.5 267,393.5" class="c" stroke-width="1.2" stroke="#ffff00"/>
<path d="M38.7 232.8M46.57 393.5" fill="none" stroke="none" marker-start="url(#mPSO105)" marker-mid="url(#mPSO105)" marker-end="url(#mPSO105)"/>
<polyline points="38.7,368.6 46.57,393.5 54.44,393.5 62.32,393.5 70.19,393.5 78.06,393.5 85.93,393.5 93.81,393.5 101.68,393.5 109.55,393.5 117.42,393.5 125.3,393.5 133.17,393.5 141.04,393.5 148.91,393.5 156.79,393.5 164.66,393.5 172.53,393.5 180.4,393.5 188.28,393.5 196.15,393.5 204.02,393.5 211.89,393.5 219.77,393.5 227.64,393.5 235.51,393.5 243.38,393.5 251.26,393.5 259.13,393.5 267,393.5" class="c" stroke-width="1.2" stroke="#ff00ff"/>
<path d="M38.7 368.6M46.57 393.5" fill="none" stroke="none" marker-start="url(#mGWO105)" marker-mid="url(#mGWO105)" marker-end="url(#mGWO105)"/>
<polyline points="38.7,318.1 46.57,364.2 54.44,393.5 62.32,393.5 70.19,393.5 78.06,393.5 85.93,393.5 93.81,393.5 101.68,393.5 109.55,393.5 117.42,393.5 125.3,393.5 133.17,393.5 141.04,393.5 148.91,393.5 156.79,393.5 164.66,393.5 172.53,393.5 180.4,393.5 188.28,393.5 196.15,393.5 204.02,393.5 211.89,393.5 219.77,393.5 227.64,393.5 235.51,393.5 243.38,393.5 251.26,393.5 259.13,393.5 267,393.5" class="c" stroke-width="1.2" stroke="#ff0000"/>
<path d="M38.7 318.1M46.57 364.2" fill="none" stroke="none" marker-start="url(#mWOA105)" marker-mid="url(#mWOA105)" marker-end="url(#mWOA105)"/>
<polyline points="38.7,304.8 46.57,364.4 54.44,364.4 62.32,364.4 70.19,364.4 78.06,364.4 85.93,364.4 93.81,364.4 101.68,364.4 109.55,364.4 117.42,364.4 125.3,364.4 133.17,364.4 141.04,364.4 148.91,364.4 156.79,364.4 164.66,364.4 172.53,364.4 180.4,364.4 188.28,364.4 196.15,364.4 204.02,364.4 211.89,364.4 219.77,364.4 227.64,364.4 235.51,364.4 243.38,364.4 251.26,364.4 259.13,364.4 267,364.4" class="c" stroke-width="1.2" stroke="#000000"/>
<path d="M38.7 304.8M46.57 364.4M54.44 364.4M62.32 364.4M70.19 364.4M78.06 364.4M85.93 364.4M93.81 364.4M101.68 364.4M109.55 364.4M117.42 364.4M125.3 364.4M133.17 364.4M141.04 364.4M148.91 364.4M156.79 364.4M164.66 364.4M172.53 364.4M180.4 364.4M188.28 364.4M196.15 364.4M204.02 364.4M211.89 364.4M219.77 364.4M227.64 364.4M235.51 364.4M243.38 364.4M251.26 364.4M259.13 364.4M267 364.4" fill="none" stroke="none" marker-start="url(#mSABO105)" marker-mid="url(#mSABO105)" marker-end="url(#mSABO105)"/>
<polyline points="38.7,351.3 46.57,393.5 54.44,393.5 62.32,393.5 70.19,393.5 78.06,393.5 85.93,393.5 93.81,393.5 101.68,393.5 109.55,393.5 117.42,393.5 125.3,393.5 133.17,393.5 141.04,393.5 148.91,393.5 156.79,393.5 164.66,393.5 172.53,393.5 180.4,393.5 188.28,393.5 196.15,393.5 204.02,393.5 211.89,393.5 219.77,393.5 227.64,393.5 235.51,393.5 243.38,393.5 251.26,393.5 259.13,393.5 267,393.5" class="c" stroke-width="1.2" stroke="#ff00ff"/>
<path d="M38.7 351.3M46.57 393.5" fill="none" stroke="none" marker-start="url(#mSCSO105)" marker-mid="url(#mSCSO105)" marker-end="url(#mSCSO105)"/>
<polyline points="38.7,337.2 46.57,393.5 54.44,393.5 62.32,393.5 70.19,393.5 78.06,393.5 85.93,393.5 93.81,393.5 101.68,393.5 109.55,393.5 117.42,393.5 125.3,393.5 133.17,393.5 141.04,393.5 148.91,393.5 156.79,393.5 164.66,393.5 172.53,393.5 180.4,393.5 188.28,393.5 196.15,393.5 204.02,393.5 211.89,393.5 219.77,393.5 227.64,393.5 235.51,393.5 243.38,393.5 251.26,393.5 259.13,393.5 267,393.5" class="c" stroke-width="1.2" stroke="#00ff00"/>
<path d="M38.7 337.2M46.57 393.5" fill="none" stroke="none" marker-start="url(#mSO105)" marker-mid="url(#mSO105)" marker-end="url(#mSO105)"/>
<polyline points="38.7,270.3 46.57,391.5 54.44,393.5 62.32,393.5 70.19,393.5 78.06,393.5 85.93,393.5 93.81,393.5 101.68,393.5 109.55,393.5 117.42,393.5 125.3,393.5 133.17,393.5 141.04,393.5 148.91,393.5 156.79,393.5 164.66,393.5 172.53,393.5 180.4,393.5 188.28,393.5 196.15,393.5 204.02,393.5 211.89,393.5 219.77,393.5 227.64,393.5 235.51,393.5 243.38,393.5 251.26,393.5 259.13,393.5 267,393.5" class="c" stroke-width="1.2" stroke="#0000ff" marker-start="url(#mDTHSO105)" marker-mid="url(#mDTHSO105)" marker-end="url(#mDTHSO105)"/>
<text class="s" transform="translate(38.7 403.3) scale(0.87 1)" font-size="7.7" text-anchor="middle">0</text>
<text class="s" transform="translate(61.53 403.3) scale(0.87 1)" font-size="7.7" text-anchor="middle">50</text>
<text class="s" transform="translate(84.36 403.3) scale(0.87 1)" font-size="7.7" text-anchor="middle">100</text>
<text class="s" transform="translate(107.19 403.3) scale(0.87 1)" font-size="7.7" text-anchor="middle">150</text>
<text class="s" transform="translate(130.02 403.3) scale(0.87 1)" font-size="7.7" text-anchor="middle">200</text>
<text class="s" transform="translate(152.85 403.3) scale(0.87 1)" font-size="7.7" text-anchor="middle">250</text>
<text class="s" transform="translate(175.68 403.3) scale(0.87 1)" font-size="7.7" text-anchor="middle">300</text>
<text class="s" transform="translate(198.51 403.3) scale(0.87 1)" font-size="7.7" text-anchor="middle">350</text>
<text class="s" transform="translate(221.34 403.3) scale(0.87 1)" font-size="7.7" text-anchor="middle">400</text>
<text class="s" transform="translate(244.17 403.3) scale(0.87 1)" font-size="7.7" text-anchor="middle">450</text>
<text class="s" transform="translate(267 403.3) scale(0.87 1)" font-size="7.7" text-anchor="middle">500</text>
<text class="s" transform="translate(36.2 239.57) scale(0.87 1)" font-size="7.7" text-anchor="end">-3.2</text>
<text class="s" transform="translate(36.2 265.55) scale(0.87 1)" font-size="7.7" text-anchor="end">-3.3</text>
<text class="s" transform="translate(36.2 290.76) scale(0.87 1)" font-size="7.7" text-anchor="end">-3.4</text>
<text class="s" transform="translate(36.2 315.23) scale(0.87 1)" font-size="7.7" text-anchor="end">-3.5</text>
<text class="s" transform="translate(36.2 339.01) scale(0.87 1)" font-size="7.7" text-anchor="end">-3.6</text>
<text class="s" transform="translate(36.2 362.14) scale(0.87 1)" font-size="7.7" text-anchor="end">-3.7</text>
<text class="s" transform="translate(36.2 384.66) scale(0.87 1)" font-size="7.7" text-anchor="end">-3.8</text>
<text class="s" transform="translate(152.2 411.5) scale(0.87 1)" font-size="7" text-anchor="middle" textLength="27.59" lengthAdjust="spacingAndGlyphs">Iteration</text>
<text class="s" transform="translate(21.3 313) scale(0.87 1) rotate(-90)" font-size="6.7" text-anchor="middle" textLength="39" lengthAdjust="spacingAndGlyphs">Fitness value</text>
<text class="r" transform="translate(144.4 427.4) scale(0.87 1)" font-size="12" text-anchor="middle" textLength="19.89" lengthAdjust="spacingAndGlyphs">F19</text>
<rect x="212.4" y="236.1" width="45.4" height="76.3" class="lg"/>
<polyline points="213.7,241.9 221.5,241.9 229.3,241.9" class="c" stroke-width="1.2" stroke="#ffff00" marker-mid="url(#mPSO90)"/>
<text class="s k" transform="translate(230.6 244.83) scale(0.95 1)" font-size="7.5">PSO</text>
<polyline points="213.7,251.27 221.5,251.27 229.3,251.27" class="c" stroke-width="1.2" stroke="#ff00ff" marker-mid="url(#mGWO90)"/>
<text class="s k" transform="translate(230.6 254.2) scale(0.95 1)" font-size="7.5">GWO</text>
<polyline points="213.7,260.64 221.5,260.64 229.3,260.64" class="c" stroke-width="1.2" stroke="#ff0000" marker-mid="url(#mWOA90)"/>
<text class="s k" transform="translate(230.6 263.56) scale(0.95 1)" font-size="7.5">WOA</text>
<polyline points="213.7,270.01 221.5,270.01 229.3,270.01" class="c" stroke-width="1.2" stroke="#00ffff" marker-mid="url(#mDBO90)"/>
<text class="s k" transform="translate(230.6 272.94) scale(0.95 1)" font-size="7.5">DBO</text>
<polyline points="213.7,279.38 221.5,279.38 229.3,279.38" class="c" stroke-width="1.2" stroke="#000000" marker-mid="url(#mSABO90)"/>
<text class="s k" transform="translate(230.6 282.31) scale(0.95 1)" font-size="7.5">SABO</text>
<polyline points="213.7,288.75 221.5,288.75 229.3,288.75" class="c" stroke-width="1.2" stroke="#ff00ff" marker-mid="url(#mSCSO90)"/>
<text class="s k" transform="translate(230.6 291.68) scale(0.95 1)" font-size="7.5">SCSO</text>
<polyline points="213.7,298.12 221.5,298.12 229.3,298.12" class="c" stroke-width="1.2" stroke="#00ff00" marker-mid="url(#mSO90)"/>
<text class="s k" transform="translate(230.6 301.05) scale(0.95 1)" font-size="7.5">SO</text>
<polyline points="213.7,307.49 221.5,307.49 229.3,307.49" class="c" stroke-width="1.2" stroke="#0000ff" marker-mid="url(#mDTHSO90)"/>
<text class="s k" transform="translate(230.6 310.42) scale(0.95 1)" font-size="7.5">DTHSO</text>
<path d="M314.2 259.31H544.5M314.2 270.12H544.5M314.2 280.07H544.5M314.2 289.28H544.5M314.2 305.88H544.5M314.2 313.41H544.5M314.2 320.52H544.5M314.2 327.24H544.5M314.2 339.68H544.5M314.2 345.46H544.5M314.2 350.99H544.5M314.2 356.28H544.5M314.2 366.23H544.5M314.2 370.92H544.5M314.2 375.44H544.5M314.2 379.8H544.5M314.2 388.09H544.5M314.2 392.03H544.5M314.2 395.86H544.5" class="mg"/>
<path d="M314.2 247.46H544.5M314.2 297.86H544.5M314.2 333.61H544.5M314.2 361.35H544.5M314.2 384.01H544.5M314.2 231.4V396.1M337.23 231.4V396.1M360.26 231.4V396.1M383.29 231.4V396.1M406.32 231.4V396.1M429.35 231.4V396.1M452.38 231.4V396.1M475.41 231.4V396.1M498.44 231.4V396.1M521.47 231.4V396.1M544.5 231.4V396.1" class="g"/>
<path d="M314.2 231.4H544.5V396.1H314.2ZM314.2 396.1v-2.2M314.2 231.4v2.2M337.23 396.1v-2.2M337.23 231.4v2.2M360.26 396.1v-2.2M360.26 231.4v2.2M383.29 396.1v-2.2M383.29 231.4v2.2M406.32 396.1v-2.2M406.32 231.4v2.2M429.35 396.1v-2.2M429.35 231.4v2.2M452.38 396.1v-2.2M452.38 231.4v2.2M475.41 396.1v-2.2M475.41 231.4v2.2M498.44 396.1v-2.2M498.44 231.4v2.2M521.47 396.1v-2.2M521.47 231.4v2.2M544.5 396.1v-2.2M544.5 231.4v2.2M314.2 247.46h2.2M544.5 247.46h-2.2M314.2 297.86h2.2M544.5 297.86h-2.2M314.2 333.61h2.2M544.5 333.61h-2.2M314.2 361.35h2.2M544.5 361.35h-2.2M314.2 384.01h2.2M544.5 384.01h-2.2M314.2 259.31h1.3M544.5 259.31h-1.3M314.2 270.12h1.3M544.5 270.12h-1.3M314.2 280.07h1.3M544.5 280.07h-1.3M314.2 289.28h1.3M544.5 289.28h-1.3M314.2 305.88h1.3M544.5 305.88h-1.3M314.2 313.41h1.3M544.5 313.41h-1.3M314.2 320.52h1.3M544.5 320.52h-1.3M314.2 327.24h1.3M544.5 327.24h-1.3M314.2 339.68h1.3M544.5 339.68h-1.3M314.2 345.46h1.3M544.5 345.46h-1.3M314.2 350.99h1.3M544.5 350.99h-1.3M314.2 356.28h1.3M544.5 356.28h-1.3M314.2 366.23h1.3M544.5 366.23h-1.3M314.2 370.92h1.3M544.5 370.92h-1.3M314.2 375.44h1.3M544.5 375.44h-1.3M314.2 379.8h1.3M544.5 379.8h-1.3M314.2 388.09h1.3M544.5 388.09h-1.3M314.2 392.03h1.3M544.5 392.03h-1.3M314.2 395.86h1.3M544.5 395.86h-1.3" class="ax"/>
<polyline points="314.2,329 322.14,386 330.08,391.9 338.02,391.9 345.97,391.9 353.91,391.9 361.85,391.9 369.79,391.9 377.73,391.9 385.67,391.9 393.61,391.9 401.56,391.9 409.5,391.9 417.44,391.9 425.38,391.9 433.32,391.9 441.26,391.9 449.2,391.9 457.14,391.9 465.09,391.9 473.03,391.9 480.97,391.9 488.91,391.9 496.85,391.9 504.79,391.9 512.73,391.9 520.68,391.9 528.62,391.9 536.56,391.9 544.5,391.9" class="c" stroke-width="1.15" stroke="#ffff00"/>
<path d="M314.2 329M322.14 386M330.08 391.9M338.02 391.9M345.97 391.9M353.91 391.9M361.85 391.9M369.79 391.9M377.73 391.9M385.67 391.9M393.61 391.9M401.56 391.9M409.5 391.9M417.44 391.9M425.38 391.9M433.32 391.9M441.26 391.9M449.2 391.9M457.14 391.9M465.09 391.9M473.03 391.9M480.97 391.9M488.91 391.9M496.85 391.9M504.79 391.9M512.73 391.9M520.68 391.9M528.62 391.9M536.56 391.9M544.5 391.9" fill="none" stroke="none" marker-start="url(#mPSO85)" marker-mid="url(#mPSO85)" marker-end="url(#mPSO85)"/>
<polyline points="314.2,333.5 322.14,394 330.08,395.6 338.02,395.6 345.97,395.6 353.91,395.6 361.85,395.6 369.79,395.6 377.73,395.6 385.67,395.6 393.61,395.6 401.56,395.6 409.5,395.6 417.44,395.6 425.38,395.6 433.32,395.6 441.26,395.6 449.2,395.6 457.14,395.6 465.09,395.6 473.03,395.6 480.97,395.6 488.91,395.6 496.85,395.6 504.79,395.6 512.73,395.6 520.68,395.6 528.62,395.6 536.56,395.6 544.5,395.6" class="c" stroke-width="1.15" stroke="#ff00ff"/>
<path d="M314.2 333.5M322.14 394M330.08 395.6" fill="none" stroke="none" marker-start="url(#mGWO85)" marker-mid="url(#mGWO85)" marker-end="url(#mGWO85)"/>
<polyline points="314.2,230.8 322.14,386 330.08,395.6 338.02,395.6 345.97,395.6 353.91,395.6 361.85,395.6 369.79,395.6 377.73,395.6 385.67,395.6 393.61,395.6 401.56,395.6 409.5,395.6 417.44,395.6 425.38,395.6 433.32,395.6 441.26,395.6 449.2,395.6 457.14,395.6 465.09,395.6 473.03,395.6 480.97,395.6 488.91,395.6 496.85,395.6 504.79,395.6 512.73,395.6 520.68,395.6 528.62,395.6 536.56,395.6 544.5,395.6" class="c" stroke-width="1.15" stroke="#ff0000"/>
<path d="M314.2 230.8M322.14 386M330.08 395.6" fill="none" stroke="none" marker-start="url(#mWOA85)" marker-mid="url(#mWOA85)" marker-end="url(#mWOA85)"/>
<polyline points="314.2,317 322.14,381.6 330.08,388.5 338.02,391.3 345.97,393.9 353.91,393.9 361.85,393.9 369.79,393.9 377.73,393.9 385.67,393.9 393.61,393.9 401.56,393.9 409.5,393.9 417.44,393.9 425.38,393.9 433.32,393.9 441.26,393.9 449.2,393.9 457.14,393.9 465.09,393.9 473.03,393.9 480.97,393.9 488.91,393.9 496.85,393.9 504.79,393.9 512.73,393.9 520.68,393.9 528.62,393.9 536.56,393.9 544.5,393.9" class="c" stroke-width="1.15" stroke="#000000"/>
<path d="M314.2 317M322.14 381.6M330.08 388.5M338.02 391.3M345.97 393.9M353.91 393.9M361.85 393.9M369.79 393.9M377.73 393.9M385.67 393.9M393.61 393.9M401.56 393.9M409.5 393.9M417.44 393.9M425.38 393.9M433.32 393.9M441.26 393.9M449.2 393.9M457.14 393.9M465.09 393.9M473.03 393.9M480.97 393.9M488.91 393.9M496.85 393.9M504.79 393.9M512.73 393.9M520.68 393.9M528.62 393.9M536.56 393.9M544.5 393.9" fill="none" stroke="none" marker-start="url(#mSABO85)" marker-mid="url(#mSABO85)" marker-end="url(#mSABO85)"/>
<polyline points="314.2,332.7 322.14,386 330.08,389.5 338.02,389.5 345.97,389.5 353.91,389.5 361.85,389.5 369.79,389.5 377.73,389.5 385.67,389.5 393.61,389.5 401.56,389.5 409.5,389.5 417.44,389.5 425.38,389.5 433.32,389.5 441.26,389.5 449.2,389.5 457.14,389.5 465.09,389.5 473.03,389.5 480.97,389.5 488.91,389.5 496.85,389.5 504.79,389.5 512.73,389.5 520.68,389.5 528.62,389.5 536.56,389.5 544.5,389.5" class="c" stroke-width="1.15" stroke="#ff00ff"/>
<path d="M314.2 332.7M322.14 386M330.08 389.5M338.02 389.5M345.97 389.5M353.91 389.5M361.85 389.5M369.79 389.5M377.73 389.5M385.67 389.5M393.61 389.5M401.56 389.5M409.5 389.5M417.44 389.5M425.38 389.5M433.32 389.5M441.26 389.5M449.2 389.5M457.14 389.5M465.09 389.5M473.03 389.5M480.97 389.5M488.91 389.5M496.85 389.5M504.79 389.5M512.73 389.5M520.68 389.5M528.62 389.5M536.56 389.5M544.5 389.5" fill="none" stroke="none" marker-start="url(#mSCSO85)" marker-mid="url(#mSCSO85)" marker-end="url(#mSCSO85)"/>
<polyline points="314.2,265.1 322.14,388.3 330.08,395.6 338.02,395.6 345.97,395.6 353.91,395.6 361.85,395.6 369.79,395.6 377.73,395.6 385.67,395.6 393.61,395.6 401.56,395.6 409.5,395.6 417.44,395.6 425.38,395.6 433.32,395.6 441.26,395.6 449.2,395.6 457.14,395.6 465.09,395.6 473.03,395.6 480.97,395.6 488.91,395.6 496.85,395.6 504.79,395.6 512.73,395.6 520.68,395.6 528.62,395.6 536.56,395.6 544.5,395.6" class="c" stroke-width="1.15" stroke="#00ff00"/>
<path d="M314.2 265.1M322.14 388.3M330.08 395.6" fill="none" stroke="none" marker-start="url(#mSO85)" marker-mid="url(#mSO85)" marker-end="url(#mSO85)"/>
<polyline points="314.2,292 322.14,384.6 330.08,393 338.02,395.6 345.97,395.6 353.91,395.6 361.85,395.6 369.79,395.6 377.73,395.6 385.67,395.6 393.61,395.6 401.56,395.6 409.5,395.6 417.44,395.6 425.38,395.6 433.32,395.6 441.26,395.6 449.2,395.6 457.14,395.6 465.09,395.6 473.03,395.6 480.97,395.6 488.91,395.6 496.85,395.6 504.79,395.6 512.73,395.6 520.68,395.6 528.62,395.6 536.56,395.6 544.5,395.6" class="c" stroke-width="1.15" stroke="#0000ff" marker-start="url(#mDTHSO85)" marker-mid="url(#mDTHSO85)" marker-end="url(#mDTHSO85)"/>
<text class="s" transform="translate(314.2 404.9) scale(0.87 1)" font-size="7.7" text-anchor="middle">0</text>
<text class="s" transform="translate(337.23 404.9) scale(0.87 1)" font-size="7.7" text-anchor="middle">50</text>
<text class="s" transform="translate(360.26 404.9) scale(0.87 1)" font-size="7.7" text-anchor="middle">100</text>
<text class="s" transform="translate(383.29 404.9) scale(0.87 1)" font-size="7.7" text-anchor="middle">150</text>
<text class="s" transform="translate(406.32 404.9) scale(0.87 1)" font-size="7.7" text-anchor="middle">200</text>
<text class="s" transform="translate(429.35 404.9) scale(0.87 1)" font-size="7.7" text-anchor="middle">250</text>
<text class="s" transform="translate(452.38 404.9) scale(0.87 1)" font-size="7.7" text-anchor="middle">300</text>
<text class="s" transform="translate(475.41 404.9) scale(0.87 1)" font-size="7.7" text-anchor="middle">350</text>
<text class="s" transform="translate(498.44 404.9) scale(0.87 1)" font-size="7.7" text-anchor="middle">400</text>
<text class="s" transform="translate(521.47 404.9) scale(0.87 1)" font-size="7.7" text-anchor="middle">450</text>
<text class="s" transform="translate(544.5 404.9) scale(0.87 1)" font-size="7.7" text-anchor="middle">500</text>
<text class="s" transform="translate(311.7 250.23) scale(0.87 1)" font-size="7.7" text-anchor="end">-1</text>
<text class="s" transform="translate(311.7 300.63) scale(0.87 1)" font-size="7.7" text-anchor="end">-1.5</text>
<text class="s" transform="translate(311.7 336.39) scale(0.87 1)" font-size="7.7" text-anchor="end">-2</text>
<text class="s" transform="translate(311.7 364.12) scale(0.87 1)" font-size="7.7" text-anchor="end">-2.5</text>
<text class="s" transform="translate(311.7 386.78) scale(0.87 1)" font-size="7.7" text-anchor="end">-3</text>
<text class="s" transform="translate(429.3 413.6) scale(0.87 1)" font-size="7" text-anchor="middle" textLength="26.44" lengthAdjust="spacingAndGlyphs">Iteration</text>
<text class="s" transform="translate(298 314) scale(0.87 1) rotate(-90)" font-size="6.6" text-anchor="middle" textLength="38" lengthAdjust="spacingAndGlyphs">Fitness value</text>
<text class="r" transform="translate(422 427.5) scale(0.87 1)" font-size="12" text-anchor="middle" textLength="20.11" lengthAdjust="spacingAndGlyphs">F20</text>
<rect x="494.4" y="237.8" width="44" height="73.7" class="lg"/>
<polyline points="495.9,243.2 503.15,243.2 510.4,243.2" class="c" stroke-width="1.15" stroke="#ffff00" marker-mid="url(#mPSO85)"/>
<text class="s k" transform="translate(511.9 246.09) scale(0.93 1)" font-size="7.4">PSO</text>
<polyline points="495.9,252.2 503.15,252.2 510.4,252.2" class="c" stroke-width="1.15" stroke="#ff00ff" marker-mid="url(#mGWO85)"/>
<text class="s k" transform="translate(511.9 255.09) scale(0.93 1)" font-size="7.4">GWO</text>
<polyline points="495.9,261.2 503.15,261.2 510.4,261.2" class="c" stroke-width="1.15" stroke="#ff0000" marker-mid="url(#mWOA85)"/>
<text class="s k" transform="translate(511.9 264.09) scale(0.93 1)" font-size="7.4">WOA</text>
<polyline points="495.9,270.2 503.15,270.2 510.4,270.2" class="c" stroke-width="1.15" stroke="#00ffff" marker-mid="url(#mDBO85)"/>
<text class="s k" transform="translate(511.9 273.09) scale(0.93 1)" font-size="7.4">DBO</text>
<polyline points="495.9,279.2 503.15,279.2 510.4,279.2" class="c" stroke-width="1.15" stroke="#000000" marker-mid="url(#mSABO85)"/>
<text class="s k" transform="translate(511.9 282.09) scale(0.93 1)" font-size="7.4">SABO</text>
<polyline points="495.9,288.2 503.15,288.2 510.4,288.2" class="c" stroke-width="1.15" stroke="#ff00ff" marker-mid="url(#mSCSO85)"/>
<text class="s k" transform="translate(511.9 291.09) scale(0.93 1)" font-size="7.4">SCSO</text>
<polyline points="495.9,297.2 503.15,297.2 510.4,297.2" class="c" stroke-width="1.15" stroke="#00ff00" marker-mid="url(#mSO85)"/>
<text class="s k" transform="translate(511.9 300.09) scale(0.93 1)" font-size="7.4">SO</text>
<polyline points="495.9,306.2 503.15,306.2 510.4,306.2" class="c" stroke-width="1.15" stroke="#0000ff" marker-mid="url(#mDTHSO85)"/>
<text class="s k" transform="translate(511.9 309.09) scale(0.93 1)" font-size="7.4">DTHSO</text>
<path d="M51.3 456.72H255.7M51.3 468.07H255.7M51.3 476.13H255.7M51.3 482.38H255.7M51.3 487.49H255.7M51.3 491.81H255.7M51.3 495.55H255.7M51.3 498.85H255.7M51.3 521.22H255.7M51.3 532.57H255.7M51.3 540.63H255.7M51.3 546.88H255.7M51.3 551.99H255.7M51.3 556.31H255.7M51.3 560.05H255.7M51.3 563.35H255.7M51.3 585.72H255.7M51.3 597.07H255.7M51.3 605.13H255.7M51.3 611.38H255.7M51.3 616.49H255.7M51.3 620.81H255.7M51.3 624.55H255.7M51.3 627.85H255.7" class="mg"/>
<path d="M51.3 437.3H255.7M51.3 501.8H255.7M51.3 566.3H255.7M51.3 630.8H255.7M51.3 437.3V630.8M92.18 437.3V630.8M133.06 437.3V630.8M173.94 437.3V630.8M214.82 437.3V630.8M255.7 437.3V630.8" class="g"/>
<path d="M51.3 437.3H255.7V630.8H51.3ZM51.3 630.8v-2.2M51.3 437.3v2.2M92.18 630.8v-2.2M92.18 437.3v2.2M133.06 630.8v-2.2M133.06 437.3v2.2M173.94 630.8v-2.2M173.94 437.3v2.2M214.82 630.8v-2.2M214.82 437.3v2.2M255.7 630.8v-2.2M255.7 437.3v2.2M51.3 437.3h2.2M255.7 437.3h-2.2M51.3 501.8h2.2M255.7 501.8h-2.2M51.3 566.3h2.2M255.7 566.3h-2.2M51.3 630.8h2.2M255.7 630.8h-2.2M51.3 456.72h1.3M255.7 456.72h-1.3M51.3 468.07h1.3M255.7 468.07h-1.3M51.3 476.13h1.3M255.7 476.13h-1.3M51.3 482.38h1.3M255.7 482.38h-1.3M51.3 487.49h1.3M255.7 487.49h-1.3M51.3 491.81h1.3M255.7 491.81h-1.3M51.3 495.55h1.3M255.7 495.55h-1.3M51.3 498.85h1.3M255.7 498.85h-1.3M51.3 521.22h1.3M255.7 521.22h-1.3M51.3 532.57h1.3M255.7 532.57h-1.3M51.3 540.63h1.3M255.7 540.63h-1.3M51.3 546.88h1.3M255.7 546.88h-1.3M51.3 551.99h1.3M255.7 551.99h-1.3M51.3 556.31h1.3M255.7 556.31h-1.3M51.3 560.05h1.3M255.7 560.05h-1.3M51.3 563.35h1.3M255.7 563.35h-1.3M51.3 585.72h1.3M255.7 585.72h-1.3M51.3 597.07h1.3M255.7 597.07h-1.3M51.3 605.13h1.3M255.7 605.13h-1.3M51.3 611.38h1.3M255.7 611.38h-1.3M51.3 616.49h1.3M255.7 616.49h-1.3M51.3 620.81h1.3M255.7 620.81h-1.3M51.3 624.55h1.3M255.7 624.55h-1.3M51.3 627.85h1.3M255.7 627.85h-1.3" class="ax"/>
<polyline points="51.3,505 58.35,528.8 65.4,528.8 72.44,528.8 79.49,528.8 86.54,528.8 93.59,528.8 100.64,528.8 107.69,528.8 114.73,528.8 121.78,528.8 128.83,528.8 135.88,528.8 142.93,528.8 149.98,528.8 157.02,528.8 164.07,528.8 171.12,528.8 178.17,528.8 185.22,528.8 192.27,528.8 199.31,528.8 206.36,528.8 213.41,528.8 220.46,528.8 227.51,528.8 234.56,528.8 241.6,528.8 248.65,528.8 255.7,528.8" class="c" stroke="#ffff00"/>
<path d="M51.3 505M58.35 528.8M65.4 528.8M72.44 528.8M79.49 528.8M86.54 528.8M93.59 528.8M100.64 528.8M107.69 528.8M114.73 528.8M121.78 528.8M128.83 528.8M135.88 528.8M142.93 528.8M149.98 528.8M157.02 528.8M164.07 528.8M171.12 528.8M178.17 528.8M185.22 528.8M192.27 528.8M199.31 528.8M206.36 528.8M213.41 528.8M220.46 528.8M227.51 528.8M234.56 528.8M241.6 528.8M248.65 528.8M255.7 528.8" fill="none" stroke="none" marker-start="url(#mPSO120)" marker-mid="url(#mPSO120)" marker-end="url(#mPSO120)"/>
<polyline points="51.3,497.8 58.35,522.7 65.4,542.7 72.44,543.5 79.49,543.5 86.54,543.5 93.59,543.5 100.64,545.5 107.69,545.5 114.73,546.4 121.78,552.7 128.83,553.3 135.88,558.5 142.93,558.5 149.98,558.5 157.02,558.5 164.07,558.5 171.12,558.5 178.17,560.6 185.22,561.5 192.27,562 199.31,563.5 206.36,565.2 213.41,565.2 220.46,565.2 227.51,565.2 234.56,565.8 241.6,565.8 248.65,565.8 255.7,565.8" class="c" stroke="#ff00ff"/>
<path d="M51.3 497.8M58.35 522.7M65.4 542.7M72.44 543.5M79.49 543.5M86.54 543.5M93.59 543.5M121.78 552.7M128.83 553.3M135.88 558.5M142.93 558.5M149.98 558.5M157.02 558.5M164.07 558.5M171.12 558.5M178.17 560.6M185.22 561.5M192.27 562M199.31 563.5M206.36 565.2M213.41 565.2M220.46 565.2M227.51 565.2M234.56 565.8M241.6 565.8M248.65 565.8M255.7 565.8" fill="none" stroke="none" marker-start="url(#mGWO120)" marker-mid="url(#mGWO120)" marker-end="url(#mGWO120)"/>
<polyline points="51.3,478.5 58.35,545.8 65.4,546.4 72.44,546.4 79.49,546.4 86.54,546.4 93.59,546.4 100.64,546.4 107.69,546.4 114.73,546.4 121.78,546.4 128.83,546.4 135.88,546.4 142.93,546.4 149.98,546.4 157.02,546.4 164.07,546.4 171.12,546.4 178.17,546.4 185.22,546.4 192.27,546.4 199.31,546.4 206.36,546.4 213.41,546.4 220.46,546.4 227.51,546.4 234.56,546.4 241.6,546.4 248.65,546.4 255.7,546.4" class="c" stroke="#ff0000"/>
<path d="M51.3 478.5M58.35 545.8" fill="none" stroke="none" marker-start="url(#mWOA120)" marker-mid="url(#mWOA120)" marker-end="url(#mWOA120)"/>
<polyline points="51.3,469.6 58.35,530 65.4,541.5 72.44,542.7 79.49,546.4 86.54,546.4 93.59,546.4 100.64,546.4 107.69,546.4 114.73,546.4 121.78,546.4 128.83,546.4 135.88,546.4 142.93,546.4 149.98,546.4 157.02,546.4 164.07,546.4 171.12,546.4 178.17,546.4 185.22,546.4 192.27,546.4 199.31,546.4 206.36,546.4 213.41,546.4 220.46,546.4 227.51,546.4 234.56,546.4 241.6,546.4 248.65,546.4 255.7,546.4" class="c" stroke="#000000"/>
<path d="M51.3 469.6M58.35 530M65.4 541.5M72.44 542.7" fill="none" stroke="none" marker-start="url(#mSABO120)" marker-mid="url(#mSABO120)" marker-end="url(#mSABO120)"/>
<polyline points="51.3,481.8 58.35,522 65.4,543 72.44,546.4 79.49,546.4 86.54,546.4 93.59,546.4 100.64,546.4 107.69,546.4 114.73,546.4 121.78,546.4 128.83,546.4 135.88,546.4 142.93,546.4 149.98,546.4 157.02,546.4 164.07,546.4 171.12,546.4 178.17,546.4 185.22,546.4 192.27,546.4 199.31,546.4 206.36,546.4 213.41,546.4 220.46,546.4 227.51,546.4 234.56,546.4 241.6,546.4 248.65,546.4 255.7,546.4" class="c" stroke="#ff00ff"/>
<path d="M51.3 481.8M58.35 522M65.4 543" fill="none" stroke="none" marker-start="url(#mSCSO120)" marker-mid="url(#mSCSO120)" marker-end="url(#mSCSO120)"/>
<polyline points="51.3,507.3 58.35,528.8 65.4,528.8 72.44,528.8 79.49,528.8 86.54,528.8 93.59,528.8 100.64,528.8 107.69,528.8 114.73,528.8 121.78,528.8 128.83,528.8 135.88,528.8 142.93,528.8 149.98,528.8 157.02,528.8 164.07,551 171.12,551 178.17,561.4 185.22,561.4 192.27,561.4 199.31,561.4 206.36,561.4 213.41,561.4 220.46,561.4 227.51,561.4 234.56,561.4 241.6,561.4 248.65,562 255.7,566" class="c" stroke="#00ff00"/>
<path d="M51.3 507.3M58.35 528.8M65.4 528.8M72.44 528.8M79.49 528.8M86.54 528.8M93.59 528.8M100.64 528.8M107.69 528.8M114.73 528.8M121.78 528.8M128.83 528.8M135.88 528.8M142.93 528.8M149.98 528.8M157.02 528.8M164.07 551M171.12 551M178.17 561.4M185.22 561.4M192.27 561.4M199.31 561.4M206.36 561.4M213.41 561.4M220.46 561.4M227.51 561.4M234.56 561.4M241.6 561.4M248.65 562M255.7 566" fill="none" stroke="none" marker-start="url(#mSO120)" marker-mid="url(#mSO120)" marker-end="url(#mSO120)"/>
<polyline points="51.3,502.7 58.35,543.6 65.4,546.4 72.44,546.4 79.49,546.4 86.54,546.4 93.59,546.4 100.64,546.4 107.69,546.4 114.73,546.4 121.78,546.4 128.83,546.4 135.88,546.4 142.93,546.4 149.98,546.4 157.02,546.4 164.07,546.4 171.12,546.4 178.17,546.4 185.22,546.4 192.27,546.4 199.31,546.4 206.36,546.4 213.41,546.4 220.46,546.4 227.51,546.4 234.56,546.4 241.6,546.4 248.65,546.4 255.7,546.4" class="c" stroke="#0000ff" marker-start="url(#mDTHSO120)" marker-mid="url(#mDTHSO120)" marker-end="url(#mDTHSO120)"/>
<text class="s" transform="translate(51.3 640.3) scale(0.87 1)" font-size="7.7" text-anchor="middle">0</text>
<text class="s" transform="translate(92.18 640.3) scale(0.87 1)" font-size="7.7" text-anchor="middle">100</text>
<text class="s" transform="translate(133.06 640.3) scale(0.87 1)" font-size="7.7" text-anchor="middle">200</text>
<text class="s" transform="translate(173.94 640.3) scale(0.87 1)" font-size="7.7" text-anchor="middle">300</text>
<text class="s" transform="translate(214.82 640.3) scale(0.87 1)" font-size="7.7" text-anchor="middle">400</text>
<text class="s" transform="translate(255.7 640.3) scale(0.87 1)" font-size="7.7" text-anchor="middle">500</text>
<text class="s" transform="translate(48.8 441.47) scale(0.87 1)" font-size="7.7" text-anchor="end">-10<tspan dy="-3.2" font-size="5.6">-1</tspan></text>
<text class="s" transform="translate(48.8 505.97) scale(0.87 1)" font-size="7.7" text-anchor="end">-10<tspan dy="-3.2" font-size="5.6">0</tspan></text>
<text class="s" transform="translate(48.8 570.47) scale(0.87 1)" font-size="7.7" text-anchor="end">-10<tspan dy="-3.2" font-size="5.6">1</tspan></text>
<text class="s" transform="translate(48.8 634.97) scale(0.87 1)" font-size="7.7" text-anchor="end">-10<tspan dy="-3.2" font-size="5.6">2</tspan></text>
<text class="s" transform="translate(153.2 650) scale(0.87 1)" font-size="7" text-anchor="middle" textLength="26.44" lengthAdjust="spacingAndGlyphs">Iteration</text>
<text class="s" transform="translate(32.6 533.9) scale(0.87 1) rotate(-90)" font-size="7.6" text-anchor="middle" textLength="44.5" lengthAdjust="spacingAndGlyphs">Fitness value</text>
<text class="r" transform="translate(144 665.7) scale(0.87 1)" font-size="12" text-anchor="middle" textLength="19.31" lengthAdjust="spacingAndGlyphs">F21</text>
<rect x="203.8" y="439.5" width="44.7" height="86.6" class="lg"/>
<polyline points="205.3,446.1 212.9,446.1 220.5,446.1" class="c" stroke="#ffff00" marker-mid="url(#mPSO95)"/>
<text class="s k" transform="translate(221.7 448.8) scale(0.925 1)" font-size="7.7">PSO</text>
<polyline points="205.3,456.74 212.9,456.74 220.5,456.74" class="c" stroke="#ff00ff" marker-mid="url(#mGWO95)"/>
<text class="s k" transform="translate(221.7 459.44) scale(0.925 1)" font-size="7.7">GWO</text>
<polyline points="205.3,467.38 212.9,467.38 220.5,467.38" class="c" stroke="#ff0000" marker-mid="url(#mWOA95)"/>
<text class="s k" transform="translate(221.7 470.07) scale(0.925 1)" font-size="7.7">WOA</text>
<polyline points="205.3,478.02 212.9,478.02 220.5,478.02" class="c" stroke="#00ffff" marker-mid="url(#mDBO95)"/>
<text class="s k" transform="translate(221.7 480.72) scale(0.925 1)" font-size="7.7">DBO</text>
<polyline points="205.3,488.66 212.9,488.66 220.5,488.66" class="c" stroke="#000000" marker-mid="url(#mSABO95)"/>
<text class="s k" transform="translate(221.7 491.36) scale(0.925 1)" font-size="7.7">SABO</text>
<polyline points="205.3,499.3 212.9,499.3 220.5,499.3" class="c" stroke="#ff00ff" marker-mid="url(#mSCSO95)"/>
<text class="s k" transform="translate(221.7 502) scale(0.925 1)" font-size="7.7">SCSO</text>
<polyline points="205.3,509.94 212.9,509.94 220.5,509.94" class="c" stroke="#00ff00" marker-mid="url(#mSO95)"/>
<text class="s k" transform="translate(221.7 512.64) scale(0.925 1)" font-size="7.7">SO</text>
<polyline points="205.3,520.58 212.9,520.58 220.5,520.58" class="c" stroke="#0000ff" marker-mid="url(#mDTHSO95)"/>
<text class="s k" transform="translate(221.7 523.28) scale(0.925 1)" font-size="7.7">DTHSO</text>
<path d="M328.7 455.34H532.5M328.7 466.82H532.5M328.7 474.97H532.5M328.7 481.3H532.5M328.7 486.46H532.5M328.7 490.83H532.5M328.7 494.61H532.5M328.7 497.95H532.5M328.7 520.57H532.5M328.7 532.06H532.5M328.7 540.21H532.5M328.7 546.53H532.5M328.7 551.69H532.5M328.7 556.06H532.5M328.7 559.84H532.5M328.7 563.18H532.5M328.7 585.8H532.5M328.7 597.29H532.5M328.7 605.44H532.5M328.7 611.76H532.5M328.7 616.93H532.5M328.7 621.3H532.5M328.7 625.08H532.5M328.7 628.42H532.5" class="mg"/>
<path d="M328.7 435.7H532.5M328.7 500.93H532.5M328.7 566.17H532.5M328.7 631.4H532.5M328.7 435.7V631.4M349.08 435.7V631.4M369.46 435.7V631.4M389.84 435.7V631.4M410.22 435.7V631.4M430.6 435.7V631.4M450.98 435.7V631.4M471.36 435.7V631.4M491.74 435.7V631.4M512.12 435.7V631.4M532.5 435.7V631.4" class="g"/>
<path d="M328.7 435.7H532.5V631.4H328.7ZM328.7 631.4v-2.2M328.7 435.7v2.2M349.08 631.4v-2.2M349.08 435.7v2.2M369.46 631.4v-2.2M369.46 435.7v2.2M389.84 631.4v-2.2M389.84 435.7v2.2M410.22 631.4v-2.2M410.22 435.7v2.2M430.6 631.4v-2.2M430.6 435.7v2.2M450.98 631.4v-2.2M450.98 435.7v2.2M471.36 631.4v-2.2M471.36 435.7v2.2M491.74 631.4v-2.2M491.74 435.7v2.2M512.12 631.4v-2.2M512.12 435.7v2.2M532.5 631.4v-2.2M532.5 435.7v2.2M328.7 435.7h2.2M532.5 435.7h-2.2M328.7 500.93h2.2M532.5 500.93h-2.2M328.7 566.17h2.2M532.5 566.17h-2.2M328.7 631.4h2.2M532.5 631.4h-2.2M328.7 455.34h1.3M532.5 455.34h-1.3M328.7 466.82h1.3M532.5 466.82h-1.3M328.7 474.97h1.3M532.5 474.97h-1.3M328.7 481.3h1.3M532.5 481.3h-1.3M328.7 486.46h1.3M532.5 486.46h-1.3M328.7 490.83h1.3M532.5 490.83h-1.3M328.7 494.61h1.3M532.5 494.61h-1.3M328.7 497.95h1.3M532.5 497.95h-1.3M328.7 520.57h1.3M532.5 520.57h-1.3M328.7 532.06h1.3M532.5 532.06h-1.3M328.7 540.21h1.3M532.5 540.21h-1.3M328.7 546.53h1.3M532.5 546.53h-1.3M328.7 551.69h1.3M532.5 551.69h-1.3M328.7 556.06h1.3M532.5 556.06h-1.3M328.7 559.84h1.3M532.5 559.84h-1.3M328.7 563.18h1.3M532.5 563.18h-1.3M328.7 585.8h1.3M532.5 585.8h-1.3M328.7 597.29h1.3M532.5 597.29h-1.3M328.7 605.44h1.3M532.5 605.44h-1.3M328.7 611.76h1.3M532.5 611.76h-1.3M328.7 616.93h1.3M532.5 616.93h-1.3M328.7 621.3h1.3M532.5 621.3h-1.3M328.7 625.08h1.3M532.5 625.08h-1.3M328.7 628.42h1.3M532.5 628.42h-1.3" class="ax"/>
<polyline points="328.7,496 335.73,566.4 342.76,566.4 349.78,566.4 356.81,566.4 363.84,566.4 370.87,566.4 377.89,566.4 384.92,566.4 391.95,566.4 398.98,566.4 406,566.4 413.03,566.4 420.06,566.4 427.09,566.4 434.11,566.4 441.14,566.4 448.17,566.4 455.2,566.4 462.22,566.4 469.25,566.4 476.28,566.4 483.31,566.4 490.33,566.4 497.36,566.4 504.39,566.4 511.42,566.4 518.44,566.4 525.47,566.4 532.5,566.4" class="c" stroke="#ffff00"/>
<path d="M335.73 566.4M342.76 566.4M349.78 566.4" fill="none" stroke="none" marker-start="url(#mPSO120)" marker-mid="url(#mPSO120)" marker-end="url(#mPSO120)"/>
<polyline points="328.7,481.8 335.73,546.9 342.76,546.9 349.78,546.9 356.81,554 363.84,554 370.87,554 377.89,554 384.92,554 391.95,561.2 398.98,561.2 406,561.2 413.03,561.2 420.06,561.2 427.09,561.2 434.11,561.2 441.14,561.2 448.17,561.2 455.2,561.2 462.22,561.2 469.25,563.3 476.28,563.3 483.31,565 490.33,566.8 497.36,566.8 504.39,566.8 511.42,566.8 518.44,566.8 525.47,566.8 532.5,566.8" class="c" stroke="#ff00ff"/>
<path d="M328.7 481.8M335.73 546.9M342.76 546.9M349.78 546.9M356.81 554M363.84 554M370.87 554M377.89 554M384.92 554M391.95 561.2M398.98 561.2M406 561.2M413.03 561.2M420.06 561.2M427.09 561.2M434.11 561.2M441.14 561.2M448.17 561.2M455.2 561.2M462.22 561.2M469.25 563.3M476.28 563.3M483.31 565" fill="none" stroke="none" marker-start="url(#mGWO120)" marker-mid="url(#mGWO120)" marker-end="url(#mGWO120)"/>
<polyline points="328.7,473.6 335.73,525.5 342.76,527.5 349.78,529.5 356.81,529.5 363.84,529.5 370.87,529.5 377.89,529.5 384.92,529.5 391.95,529.5 398.98,529.5 406,529.5 413.03,529.5 420.06,529.5 427.09,529.5 434.11,529.5 441.14,529.5 448.17,529.5 455.2,529.5 462.22,529.5 469.25,529.5 476.28,529.5 483.31,529.5 490.33,529.5 497.36,529.5 504.39,529.5 511.42,529.5 518.44,529.5 525.47,529.5 532.5,529.5" class="c" stroke="#ff0000"/>
<path d="M328.7 473.6M335.73 525.5M342.76 527.5M349.78 529.5M356.81 529.5M363.84 529.5M370.87 529.5M377.89 529.5M384.92 529.5M391.95 529.5M398.98 529.5M406 529.5M413.03 529.5M420.06 529.5M427.09 529.5M434.11 529.5M441.14 529.5M448.17 529.5M455.2 529.5M462.22 529.5M469.25 529.5M476.28 529.5M483.31 529.5M490.33 529.5M497.36 529.5M504.39 529.5M511.42 529.5M518.44 529.5M525.47 529.5M532.5 529.5" fill="none" stroke="none" marker-start="url(#mWOA120)" marker-mid="url(#mWOA120)" marker-end="url(#mWOA120)"/>
<polyline points="328.7,491 335.73,524.9 342.76,524.9 349.78,524.9 356.81,524.9 363.84,524.9 370.87,533.3 377.89,533.3 384.92,533.3 391.95,533.9 398.98,540 406,541.2 413.03,541.2 420.06,541.2 427.09,541.2 434.11,542.2 441.14,542.2 448.17,542.2 455.2,542.6 462.22,544.7 469.25,545.5 476.28,545.7 483.31,545.7 490.33,545.7 497.36,545.7 504.39,545.7 511.42,545.7 518.44,545.7 525.47,545.7 532.5,545.7" class="c" stroke="#000000"/>
<path d="M328.7 491M335.73 524.9M342.76 524.9M349.78 524.9M356.81 524.9M363.84 524.9M370.87 533.3M377.89 533.3M384.92 533.3M391.95 533.9M398.98 540M406 541.2M413.03 541.2M420.06 541.2M427.09 541.2M434.11 542.2M441.14 542.2M448.17 542.2M455.2 542.6M462.22 544.7M469.25 545.5M476.28 545.7M483.31 545.7M490.33 545.7M497.36 545.7M504.39 545.7M511.42 545.7M518.44 545.7M525.47 545.7M532.5 545.7" fill="none" stroke="none" marker-start="url(#mSABO120)" marker-mid="url(#mSABO120)" marker-end="url(#mSABO120)"/>
<polyline points="328.7,485 335.73,546.7 342.76,546.7 349.78,546.7 356.81,546.7 363.84,546.7 370.87,546.7 377.89,546.7 384.92,546.7 391.95,546.7 398.98,546.7 406,546.7 413.03,546.7 420.06,546.7 427.09,546.7 434.11,546.7 441.14,546.7 448.17,546.7 455.2,546.7 462.22,546.7 469.25,546.7 476.28,546.7 483.31,546.7 490.33,546.7 497.36,546.7 504.39,546.7 511.42,546.7 518.44,546.7 525.47,546.7 532.5,546.7" class="c" stroke="#ff00ff"/>
<path d="M328.7 485M335.73 546.7M342.76 546.7M349.78 546.7M356.81 546.7M363.84 546.7M370.87 546.7M377.89 546.7M384.92 546.7M391.95 546.7M398.98 546.7M406 546.7M413.03 546.7M420.06 546.7M427.09 546.7M434.11 546.7M441.14 546.7M448.17 546.7M455.2 546.7M462.22 546.7M469.25 546.7M476.28 546.7M483.31 546.7M490.33 546.7M497.36 546.7M504.39 546.7M511.42 546.7M518.44 546.7M525.47 546.7M532.5 546.7" fill="none" stroke="none" marker-start="url(#mSCSO120)" marker-mid="url(#mSCSO120)" marker-end="url(#mSCSO120)"/>
<polyline points="328.7,500 335.73,526.4 342.76,538 349.78,538 356.81,538 363.84,538 370.87,538 377.89,538 384.92,538 391.95,538 398.98,538 406,538 413.03,538 420.06,538 427.09,538 434.11,539.2 441.14,550.5 448.17,565.4 455.2,565.4 462.22,565.4 469.25,565.4 476.28,565.4 483.31,565.4 490.33,565.4 497.36,565.4 504.39,565.4 511.42,565.4 518.44,565.4 525.47,565.4 532.5,565.4" class="c" stroke="#00ff00"/>
<path d="M328.7 500M335.73 526.4M342.76 538M349.78 538M356.81 538M363.84 538M370.87 538M377.89 538M384.92 538M391.95 538M398.98 538M406 538M413.03 538M420.06 538M427.09 538M434.11 539.2M441.14 550.5M448.17 565.4M455.2 565.4M462.22 565.4M469.25 565.4M476.28 565.4M483.31 565.4M490.33 565.4M497.36 565.4M504.39 565.4M511.42 565.4M518.44 565.4M525.47 565.4M532.5 565.4" fill="none" stroke="none" marker-start="url(#mSO120)" marker-mid="url(#mSO120)" marker-end="url(#mSO120)"/>
<polyline points="328.7,495.5 335.73,532.7 342.76,556.4 349.78,564.2 356.81,566.8 363.84,566.8 370.87,566.8 377.89,566.8 384.92,566.8 391.95,566.8 398.98,566.8 406,566.8 413.03,566.8 420.06,566.8 427.09,566.8 434.11,566.8 441.14,566.8 448.17,566.8 455.2,566.8 462.22,566.8 469.25,566.8 476.28,566.8 483.31,566.8 490.33,566.8 497.36,566.8 504.39,566.8 511.42,566.8 518.44,566.8 525.47,566.8 532.5,566.8" class="c" stroke="#0000ff" marker-start="url(#mDTHSO120)" marker-mid="url(#mDTHSO120)" marker-end="url(#mDTHSO120)"/>
<text class="s" transform="translate(328.7 641.4) scale(0.87 1)" font-size="7.7" text-anchor="middle">0</text>
<text class="s" transform="translate(349.08 641.4) scale(0.87 1)" font-size="7.7" text-anchor="middle">50</text>
<text class="s" transform="translate(369.46 641.4) scale(0.87 1)" font-size="7.7" text-anchor="middle">100</text>
<text class="s" transform="translate(389.84 641.4) scale(0.87 1)" font-size="7.7" text-anchor="middle">150</text>
<text class="s" transform="translate(410.22 641.4) scale(0.87 1)" font-size="7.7" text-anchor="middle">200</text>
<text class="s" transform="translate(430.6 641.4) scale(0.87 1)" font-size="7.7" text-anchor="middle">250</text>
<text class="s" transform="translate(450.98 641.4) scale(0.87 1)" font-size="7.7" text-anchor="middle">300</text>
<text class="s" transform="translate(471.36 641.4) scale(0.87 1)" font-size="7.7" text-anchor="middle">350</text>
<text class="s" transform="translate(491.74 641.4) scale(0.87 1)" font-size="7.7" text-anchor="middle">400</text>
<text class="s" transform="translate(512.12 641.4) scale(0.87 1)" font-size="7.7" text-anchor="middle">450</text>
<text class="s" transform="translate(532.5 641.4) scale(0.87 1)" font-size="7.7" text-anchor="middle">500</text>
<text class="s" transform="translate(326.5 439.67) scale(0.87 1)" font-size="7.7" text-anchor="end">-10<tspan dy="-3.2" font-size="5.6">-1</tspan></text>
<text class="s" transform="translate(326.5 504.91) scale(0.87 1)" font-size="7.7" text-anchor="end">-10<tspan dy="-3.2" font-size="5.6">0</tspan></text>
<text class="s" transform="translate(326.5 570.14) scale(0.87 1)" font-size="7.7" text-anchor="end">-10<tspan dy="-3.2" font-size="5.6">1</tspan></text>
<text class="s" transform="translate(326.5 635.37) scale(0.87 1)" font-size="7.7" text-anchor="end">-10<tspan dy="-3.2" font-size="5.6">2</tspan></text>
<text class="s" transform="translate(430.4 651.2) scale(0.87 1)" font-size="7" text-anchor="middle" textLength="25.86" lengthAdjust="spacingAndGlyphs">Iteration</text>
<text class="s" transform="translate(310.9 533.5) scale(0.87 1) rotate(-90)" font-size="7.6" text-anchor="middle" textLength="44" lengthAdjust="spacingAndGlyphs">Fitness value</text>
<text class="r" transform="translate(421.8 665.7) scale(0.87 1)" font-size="12" text-anchor="middle" textLength="19.54" lengthAdjust="spacingAndGlyphs">F22</text>
<rect x="484.3" y="438.4" width="43.6" height="85.5" class="lg"/>
<polyline points="485.7,444.9 493.25,444.9 500.8,444.9" class="c" stroke="#ffff00" marker-mid="url(#mPSO105)"/>
<text class="s k" transform="translate(501.7 447.93) scale(0.91 1)" font-size="7.8">PSO</text>
<polyline points="485.7,455.31 493.25,455.31 500.8,455.31" class="c" stroke="#ff00ff" marker-mid="url(#mGWO105)"/>
<text class="s k" transform="translate(501.7 458.34) scale(0.91 1)" font-size="7.8">GWO</text>
<polyline points="485.7,465.72 493.25,465.72 500.8,465.72" class="c" stroke="#ff0000" marker-mid="url(#mWOA105)"/>
<text class="s k" transform="translate(501.7 468.75) scale(0.91 1)" font-size="7.8">WOA</text>
<polyline points="485.7,476.13 493.25,476.13 500.8,476.13" class="c" stroke="#00ffff" marker-mid="url(#mDBO105)"/>
<text class="s k" transform="translate(501.7 479.16) scale(0.91 1)" font-size="7.8">DBO</text>
<polyline points="485.7,486.54 493.25,486.54 500.8,486.54" class="c" stroke="#000000" marker-mid="url(#mSABO105)"/>
<text class="s k" transform="translate(501.7 489.57) scale(0.91 1)" font-size="7.8">SABO</text>
<polyline points="485.7,496.95 493.25,496.95 500.8,496.95" class="c" stroke="#ff00ff" marker-mid="url(#mSCSO105)"/>
<text class="s k" transform="translate(501.7 499.98) scale(0.91 1)" font-size="7.8">SCSO</text>
<polyline points="485.7,507.36 493.25,507.36 500.8,507.36" class="c" stroke="#00ff00" marker-mid="url(#mSO105)"/>
<text class="s k" transform="translate(501.7 510.39) scale(0.91 1)" font-size="7.8">SO</text>
<polyline points="485.7,517.77 493.25,517.77 500.8,517.77" class="c" stroke="#0000ff" marker-mid="url(#mDTHSO105)"/>
<text class="s k" transform="translate(501.7 520.8) scale(0.91 1)" font-size="7.8">DTHSO</text>
<path d="M45.8 695.25H260.8M45.8 707.45H260.8M45.8 716.1H260.8M45.8 722.82H260.8M45.8 728.3H260.8M45.8 732.94H260.8M45.8 736.95H260.8M45.8 740.5H260.8M45.8 764.52H260.8M45.8 776.72H260.8M45.8 785.37H260.8M45.8 792.08H260.8M45.8 797.57H260.8M45.8 802.2H260.8M45.8 806.22H260.8M45.8 809.76H260.8M45.8 833.78H260.8M45.8 845.98H260.8M45.8 854.64H260.8M45.8 861.35H260.8M45.8 866.83H260.8M45.8 871.47H260.8M45.8 875.49H260.8M45.8 879.03H260.8" class="mg"/>
<path d="M45.8 674.4H260.8M45.8 743.67H260.8M45.8 812.93H260.8M45.8 882.2H260.8M45.8 674.4V882.2M67.3 674.4V882.2M88.8 674.4V882.2M110.3 674.4V882.2M131.8 674.4V882.2M153.3 674.4V882.2M174.8 674.4V882.2M196.3 674.4V882.2M217.8 674.4V882.2M239.3 674.4V882.2M260.8 674.4V882.2" class="g"/>
<path d="M45.8 674.4H260.8V882.2H45.8ZM45.8 882.2v-2.2M45.8 674.4v2.2M67.3 882.2v-2.2M67.3 674.4v2.2M88.8 882.2v-2.2M88.8 674.4v2.2M110.3 882.2v-2.2M110.3 674.4v2.2M131.8 882.2v-2.2M131.8 674.4v2.2M153.3 882.2v-2.2M153.3 674.4v2.2M174.8 882.2v-2.2M174.8 674.4v2.2M196.3 882.2v-2.2M196.3 674.4v2.2M217.8 882.2v-2.2M217.8 674.4v2.2M239.3 882.2v-2.2M239.3 674.4v2.2M260.8 882.2v-2.2M260.8 674.4v2.2M45.8 674.4h2.2M260.8 674.4h-2.2M45.8 743.67h2.2M260.8 743.67h-2.2M45.8 812.93h2.2M260.8 812.93h-2.2M45.8 882.2h2.2M260.8 882.2h-2.2M45.8 695.25h1.3M260.8 695.25h-1.3M45.8 707.45h1.3M260.8 707.45h-1.3M45.8 716.1h1.3M260.8 716.1h-1.3M45.8 722.82h1.3M260.8 722.82h-1.3M45.8 728.3h1.3M260.8 728.3h-1.3M45.8 732.94h1.3M260.8 732.94h-1.3M45.8 736.95h1.3M260.8 736.95h-1.3M45.8 740.5h1.3M260.8 740.5h-1.3M45.8 764.52h1.3M260.8 764.52h-1.3M45.8 776.72h1.3M260.8 776.72h-1.3M45.8 785.37h1.3M260.8 785.37h-1.3M45.8 792.08h1.3M260.8 792.08h-1.3M45.8 797.57h1.3M260.8 797.57h-1.3M45.8 802.2h1.3M260.8 802.2h-1.3M45.8 806.22h1.3M260.8 806.22h-1.3M45.8 809.76h1.3M260.8 809.76h-1.3M45.8 833.78h1.3M260.8 833.78h-1.3M45.8 845.98h1.3M260.8 845.98h-1.3M45.8 854.64h1.3M260.8 854.64h-1.3M45.8 861.35h1.3M260.8 861.35h-1.3M45.8 866.83h1.3M260.8 866.83h-1.3M45.8 871.47h1.3M260.8 871.47h-1.3M45.8 875.49h1.3M260.8 875.49h-1.3M45.8 879.03h1.3M260.8 879.03h-1.3" class="ax"/>
<polyline points="45.8,741.9 53.21,814 60.63,814 68.04,814 75.46,814 82.87,814 90.28,814 97.7,814 105.11,814 112.52,814 119.94,814 127.35,814 134.77,814 142.18,814 149.59,814 157.01,814 164.42,814 171.83,814 179.25,814 186.66,814 194.08,814 201.49,814 208.9,814 216.32,814 223.73,814 231.14,814 238.56,814 245.97,814 253.39,814 260.8,814" class="c" stroke="#ffff00"/>
<path d="M45.8 741.9M53.21 814M60.63 814M68.04 814M75.46 814M82.87 814M90.28 814M97.7 814" fill="none" stroke="none" marker-start="url(#mPSO120)" marker-mid="url(#mPSO120)" marker-end="url(#mPSO120)"/>
<polyline points="45.8,737.7 53.21,779.6 60.63,779.6 68.04,793.6 75.46,799.6 82.87,799.6 90.28,799.6 97.7,799.6 105.11,803.6 112.52,803.6 119.94,803.6 127.35,803.6 134.77,804.3 142.18,804.3 149.59,812.9 157.01,812.9 164.42,812.9 171.83,812.9 179.25,812.9 186.66,812.9 194.08,812.9 201.49,812.9 208.9,812.9 216.32,812.9 223.73,812.9 231.14,812.9 238.56,812.9 245.97,812.9 253.39,812.9 260.8,812.9" class="c" stroke="#ff00ff"/>
<path d="M45.8 737.7M53.21 779.6M60.63 779.6M68.04 793.6M75.46 799.6M82.87 799.6M90.28 799.6M97.7 799.6M105.11 803.6M112.52 803.6M119.94 803.6M127.35 803.6M134.77 804.3M142.18 804.3M149.59 812.9M157.01 812.9M164.42 812.9M171.83 812.9M179.25 812.9M186.66 812.9M194.08 812.9M201.49 812.9M208.9 812.9M216.32 812.9M223.73 812.9M231.14 812.9M238.56 812.9M245.97 812.9M253.39 812.9M260.8 812.9" fill="none" stroke="none" marker-start="url(#mGWO120)" marker-mid="url(#mGWO120)" marker-end="url(#mGWO120)"/>
<polyline points="45.8,736.2 53.21,802.7 60.63,810.9 68.04,810.9 75.46,814 82.87,814 90.28,814 97.7,814 105.11,814 112.52,814 119.94,814 127.35,814 134.77,814 142.18,814 149.59,814 157.01,814 164.42,814 171.83,814 179.25,814 186.66,814 194.08,814 201.49,814 208.9,814 216.32,814 223.73,814 231.14,814 238.56,814 245.97,814 253.39,814 260.8,814" class="c" stroke="#ff0000"/>
<path d="M45.8 736.2M53.21 802.7M60.63 810.9M68.04 810.9M75.46 814M82.87 814M90.28 814M97.7 814" fill="none" stroke="none" marker-start="url(#mWOA120)" marker-mid="url(#mWOA120)" marker-end="url(#mWOA120)"/>
<polyline points="45.8,758.8 53.21,758.8 60.63,758.8 68.04,765.8 75.46,765.8 82.87,765.8 90.28,765.8 97.7,765.8 105.11,765.8 112.52,765.8 119.94,765.8 127.35,765.8 134.77,765.8 142.18,765.8 149.59,765.8 157.01,771.9 164.42,771.9 171.83,771.9 179.25,771.9 186.66,771.9 194.08,771.9 201.49,771.9 208.9,771.9 216.32,771.9 223.73,771.9 231.14,792.8 238.56,792.8 245.97,792.8 253.39,795.2 260.8,795.2" class="c" stroke="#000000"/>
<path d="M45.8 758.8M53.21 758.8M60.63 758.8M68.04 765.8M75.46 765.8M82.87 765.8M90.28 765.8M97.7 765.8M105.11 765.8M112.52 765.8M119.94 765.8M127.35 765.8M134.77 765.8M142.18 765.8M149.59 765.8M157.01 771.9M164.42 771.9M171.83 771.9M179.25 771.9M186.66 771.9M194.08 771.9M201.49 771.9M208.9 771.9M216.32 771.9M223.73 771.9M231.14 792.8M238.56 792.8M245.97 792.8M253.39 795.2M260.8 795.2" fill="none" stroke="none" marker-start="url(#mSABO120)" marker-mid="url(#mSABO120)" marker-end="url(#mSABO120)"/>
<polyline points="45.8,740 53.21,792.8 60.63,792.8 68.04,792.8 75.46,792.8 82.87,792.8 90.28,792.8 97.7,792.8 105.11,792.8 112.52,792.8 119.94,792.8 127.35,792.8 134.77,792.8 142.18,792.8 149.59,792.8 157.01,792.8 164.42,792.8 171.83,792.8 179.25,792.8 186.66,792.8 194.08,792.8 201.49,792.8 208.9,792.8 216.32,792.8 223.73,792.8 231.14,792.8 238.56,792.8 245.97,792.8 253.39,792.8 260.8,792.8" class="c" stroke="#ff00ff"/>
<path d="M45.8 740M53.21 792.8M60.63 792.8M68.04 792.8M75.46 792.8M82.87 792.8M90.28 792.8M97.7 792.8M105.11 792.8M112.52 792.8M119.94 792.8M127.35 792.8M134.77 792.8M142.18 792.8M149.59 792.8M157.01 792.8M164.42 792.8M171.83 792.8M179.25 792.8M186.66 792.8M194.08 792.8M201.49 792.8M208.9 792.8M216.32 792.8M223.73 792.8M231.14 792.8M238.56 792.8M245.97 792.8M253.39 792.8M260.8 792.8" fill="none" stroke="none" marker-start="url(#mSCSO120)" marker-mid="url(#mSCSO120)" marker-end="url(#mSCSO120)"/>
<polyline points="45.8,731.3 53.21,810 60.63,814 68.04,814 75.46,814 82.87,814 90.28,814 97.7,814 105.11,814 112.52,814 119.94,814 127.35,814 134.77,814 142.18,814 149.59,814 157.01,814 164.42,814 171.83,814 179.25,814 186.66,814 194.08,814 201.49,814 208.9,814 216.32,814 223.73,814 231.14,814 238.56,814 245.97,814 253.39,814 260.8,814" class="c" stroke="#00ff00"/>
<path d="M45.8 731.3M53.21 810M60.63 814M68.04 814M75.46 814M82.87 814M90.28 814M97.7 814" fill="none" stroke="none" marker-start="url(#mSO120)" marker-mid="url(#mSO120)" marker-end="url(#mSO120)"/>
<polyline points="45.8,746.4 53.21,755.4 60.63,769.4 68.04,770.4 75.46,770.4 82.87,770.4 90.28,770.4 97.7,803.6 105.11,814.3 112.52,814.3 119.94,814.3 127.35,814.3 134.77,814.3 142.18,814.3 149.59,814.3 157.01,814.3 164.42,814.3 171.83,814.3 179.25,814.3 186.66,814.3 194.08,814.3 201.49,814.3 208.9,814.3 216.32,814.3 223.73,814.3 231.14,814.3 238.56,814.3 245.97,814.3 253.39,814.3 260.8,814.3" class="c" stroke="#0000ff" marker-start="url(#mDTHSO120)" marker-mid="url(#mDTHSO120)" marker-end="url(#mDTHSO120)"/>
<text class="s" transform="translate(45.8 892.5) scale(0.87 1)" font-size="7.7" text-anchor="middle">0</text>
<text class="s" transform="translate(67.3 892.5) scale(0.87 1)" font-size="7.7" text-anchor="middle">50</text>
<text class="s" transform="translate(88.8 892.5) scale(0.87 1)" font-size="7.7" text-anchor="middle">100</text>
<text class="s" transform="translate(110.3 892.5) scale(0.87 1)" font-size="7.7" text-anchor="middle">150</text>
<text class="s" transform="translate(131.8 892.5) scale(0.87 1)" font-size="7.7" text-anchor="middle">200</text>
<text class="s" transform="translate(153.3 892.5) scale(0.87 1)" font-size="7.7" text-anchor="middle">250</text>
<text class="s" transform="translate(174.8 892.5) scale(0.87 1)" font-size="7.7" text-anchor="middle">300</text>
<text class="s" transform="translate(196.3 892.5) scale(0.87 1)" font-size="7.7" text-anchor="middle">350</text>
<text class="s" transform="translate(217.8 892.5) scale(0.87 1)" font-size="7.7" text-anchor="middle">400</text>
<text class="s" transform="translate(239.3 892.5) scale(0.87 1)" font-size="7.7" text-anchor="middle">450</text>
<text class="s" transform="translate(260.8 892.5) scale(0.87 1)" font-size="7.7" text-anchor="middle">500</text>
<text class="s" transform="translate(43.3 678.57) scale(0.87 1)" font-size="7.7" text-anchor="end">-10<tspan dy="-3.2" font-size="5.6">-1</tspan></text>
<text class="s" transform="translate(43.3 747.84) scale(0.87 1)" font-size="7.7" text-anchor="end">-10<tspan dy="-3.2" font-size="5.6">0</tspan></text>
<text class="s" transform="translate(43.3 817.11) scale(0.87 1)" font-size="7.7" text-anchor="end">-10<tspan dy="-3.2" font-size="5.6">1</tspan></text>
<text class="s" transform="translate(43.3 886.37) scale(0.87 1)" font-size="7.7" text-anchor="end">-10<tspan dy="-3.2" font-size="5.6">2</tspan></text>
<text class="s" transform="translate(153.2 902.9) scale(0.87 1)" font-size="7" text-anchor="middle" textLength="27.59" lengthAdjust="spacingAndGlyphs">Iteration</text>
<text class="s" transform="translate(26.5 778.4) scale(0.87 1) rotate(-90)" font-size="8" text-anchor="middle" textLength="46.5" lengthAdjust="spacingAndGlyphs">Fitness value</text>
<text class="r" transform="translate(144.5 917.5) scale(0.87 1)" font-size="12" text-anchor="middle" textLength="19.89" lengthAdjust="spacingAndGlyphs">F23</text>
<rect x="211.8" y="678.5" width="45.3" height="88.5" class="lg"/>
<polyline points="212.9,684.9 220.7,684.9 228.5,684.9" class="c" stroke="#ffff00" marker-mid="url(#mPSO110)"/>
<text class="s k" transform="translate(229.8 688.14) scale(0.87 1)" font-size="8.4">PSO</text>
<polyline points="212.9,695.83 220.7,695.83 228.5,695.83" class="c" stroke="#ff00ff" marker-mid="url(#mGWO110)"/>
<text class="s k" transform="translate(229.8 699.07) scale(0.87 1)" font-size="8.4">GWO</text>
<polyline points="212.9,706.76 220.7,706.76 228.5,706.76" class="c" stroke="#ff0000" marker-mid="url(#mWOA110)"/>
<text class="s k" transform="translate(229.8 710) scale(0.87 1)" font-size="8.4">WOA</text>
<polyline points="212.9,717.69 220.7,717.69 228.5,717.69" class="c" stroke="#00ffff" marker-mid="url(#mDBO110)"/>
<text class="s k" transform="translate(229.8 720.93) scale(0.87 1)" font-size="8.4">DBO</text>
<polyline points="212.9,728.62 220.7,728.62 228.5,728.62" class="c" stroke="#000000" marker-mid="url(#mSABO110)"/>
<text class="s k" transform="translate(229.8 731.86) scale(0.87 1)" font-size="8.4">SABO</text>
<polyline points="212.9,739.55 220.7,739.55 228.5,739.55" class="c" stroke="#ff00ff" marker-mid="url(#mSCSO110)"/>
<text class="s k" transform="translate(229.8 742.79) scale(0.87 1)" font-size="8.4">SCSO</text>
<polyline points="212.9,750.48 220.7,750.48 228.5,750.48" class="c" stroke="#00ff00" marker-mid="url(#mSO110)"/>
<text class="s k" transform="translate(229.8 753.72) scale(0.87 1)" font-size="8.4">SO</text>
<polyline points="212.9,761.41 220.7,761.41 228.5,761.41" class="c" stroke="#0000ff" marker-mid="url(#mDTHSO110)"/>
<text class="s k" transform="translate(229.8 764.65) scale(0.87 1)" font-size="8.4">DTHSO</text>
</svg>
</body></html>
